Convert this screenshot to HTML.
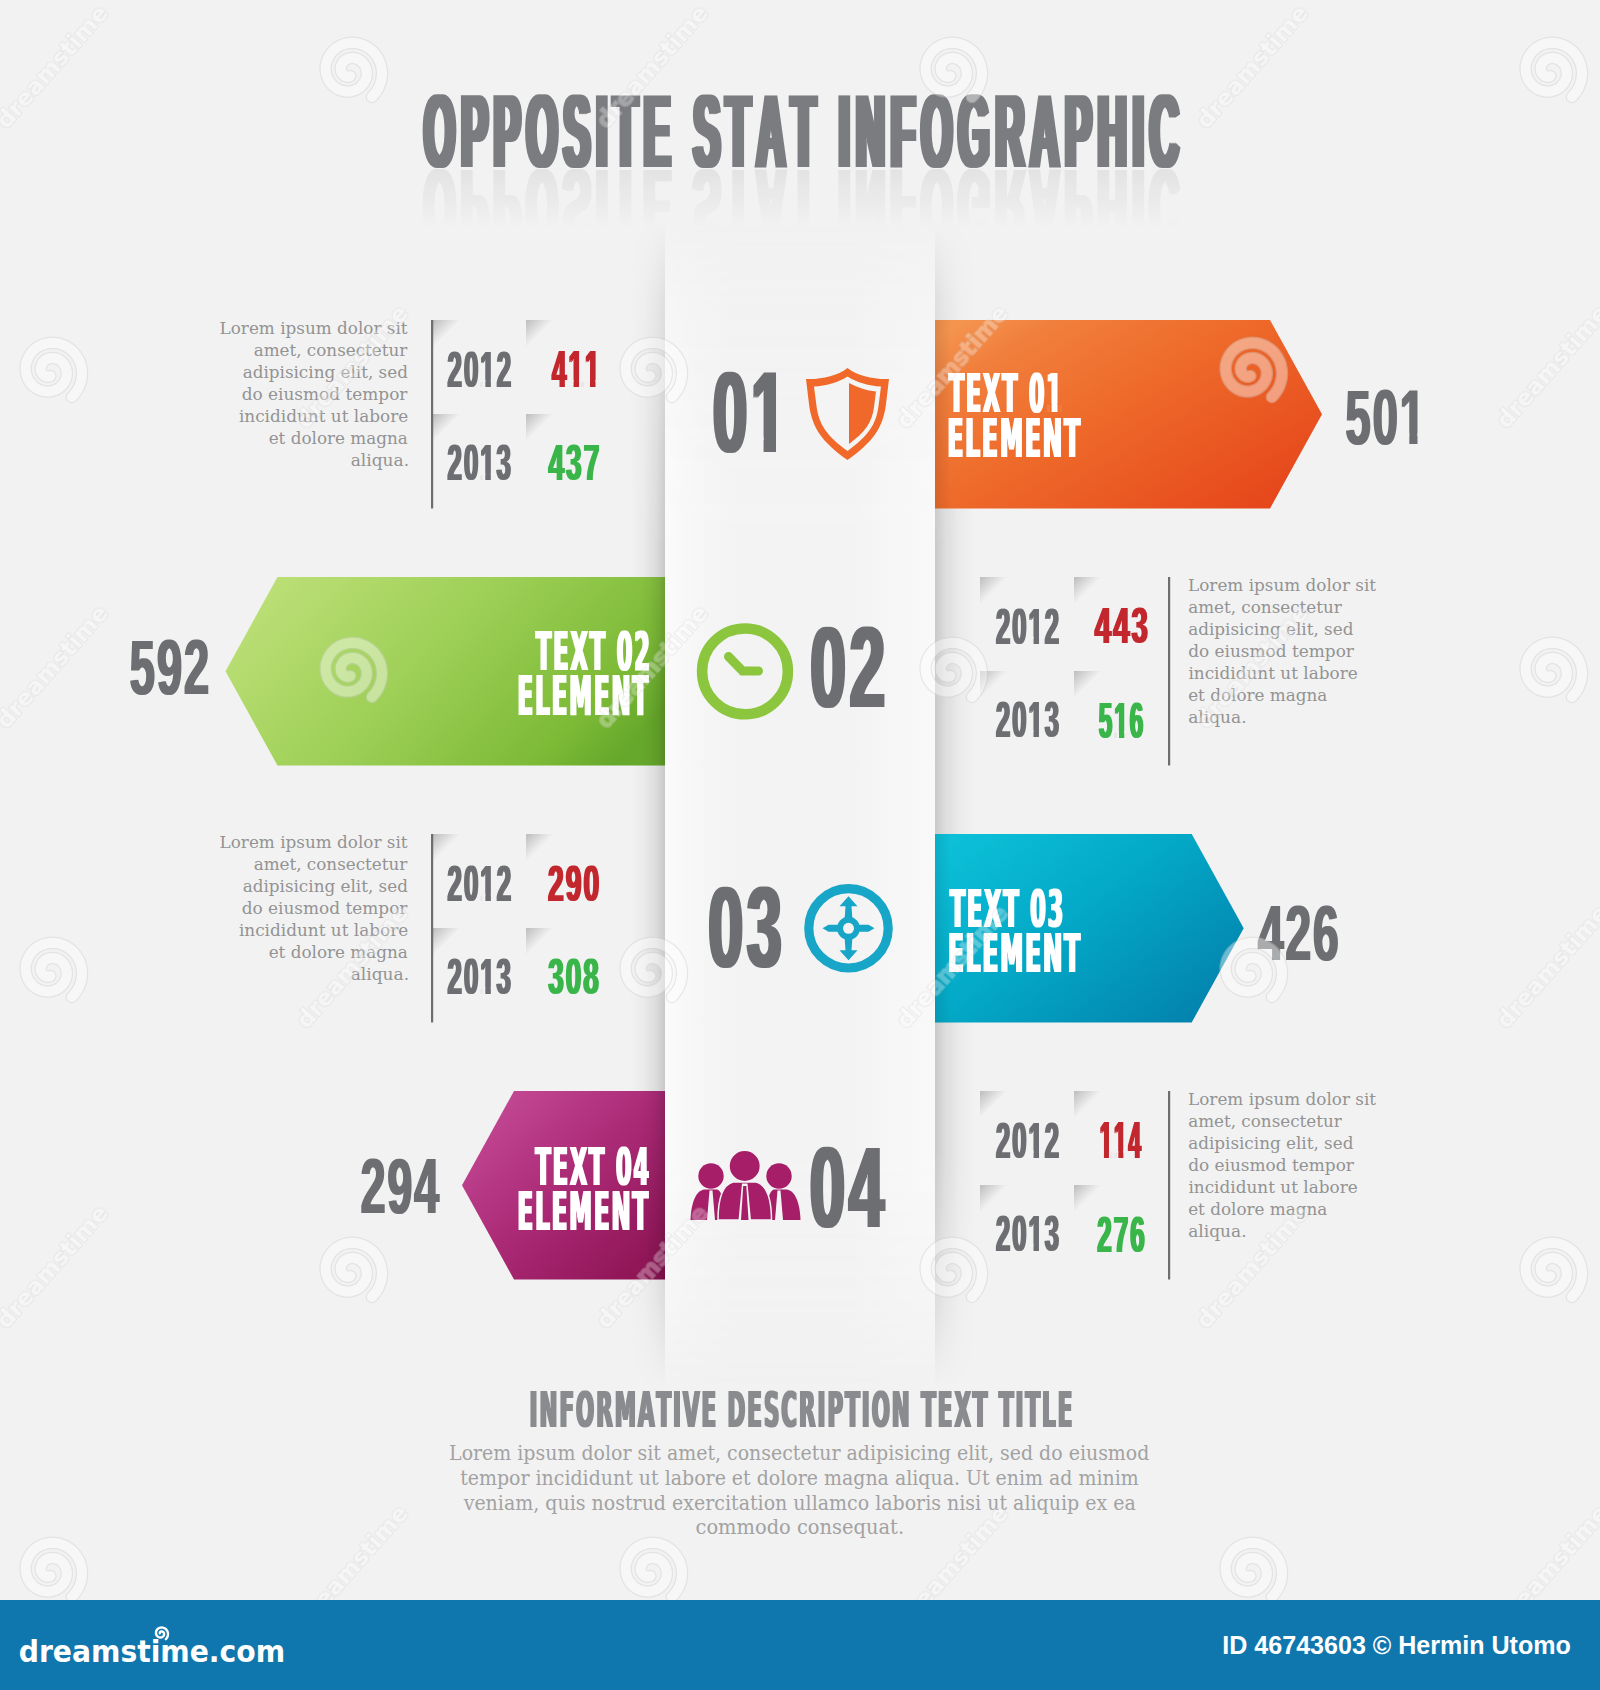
<!DOCTYPE html>
<html><head><meta charset="utf-8"><title>Opposite Stat Infographic</title>
<style>html,body{margin:0;padding:0;background:#f2f2f2;} svg{display:block} text{font-kerning:none}</style>
</head><body>
<svg width="1600" height="1690" viewBox="0 0 1600 1690">
<defs>
<linearGradient id="gOr" x1="0" y1="0.1" x2="1" y2="0.9"><stop offset="0" stop-color="#f4944f"/><stop offset="0.14" stop-color="#f17f3c"/><stop offset="0.45" stop-color="#ee6a2a"/><stop offset="1" stop-color="#e5441a"/></linearGradient>
<linearGradient id="gGr" x1="0" y1="0.3" x2="1" y2="0.7"><stop offset="0" stop-color="#bbdf76"/><stop offset="0.45" stop-color="#9dcf56"/><stop offset="0.85" stop-color="#7cba36"/><stop offset="1" stop-color="#66a82b"/></linearGradient>
<linearGradient id="gBl" x1="0" y1="0.1" x2="1" y2="0.9"><stop offset="0" stop-color="#0cc0d8"/><stop offset="0.45" stop-color="#03a8c6"/><stop offset="1" stop-color="#037fab"/></linearGradient>
<linearGradient id="gMg" x1="0" y1="0" x2="1" y2="1"><stop offset="0" stop-color="#c9519d"/><stop offset="0.5" stop-color="#ab2a76"/><stop offset="1" stop-color="#8a1150"/></linearGradient>
<linearGradient id="corner" x1="0" y1="0" x2="1" y2="1"><stop offset="0" stop-color="#000" stop-opacity="0.22"/><stop offset="0.5" stop-color="#000" stop-opacity="0.0"/></linearGradient>
<linearGradient id="shL" x1="0" y1="0" x2="1" y2="0"><stop offset="0" stop-color="#000" stop-opacity="0"/><stop offset="0.4" stop-color="#000" stop-opacity="0.03"/><stop offset="0.75" stop-color="#000" stop-opacity="0.09"/><stop offset="1" stop-color="#000" stop-opacity="0.17"/></linearGradient>
<linearGradient id="shR" x1="0" y1="0" x2="1" y2="0"><stop offset="0" stop-color="#000" stop-opacity="0.17"/><stop offset="0.25" stop-color="#000" stop-opacity="0.09"/><stop offset="0.6" stop-color="#000" stop-opacity="0.03"/><stop offset="1" stop-color="#000" stop-opacity="0"/></linearGradient>
<linearGradient id="shA" x1="0" y1="0" x2="1" y2="0"><stop offset="0" stop-color="#000" stop-opacity="0.1"/><stop offset="1" stop-color="#000" stop-opacity="0"/></linearGradient>
<linearGradient id="stripG" x1="0" y1="0" x2="1" y2="0"><stop offset="0" stop-color="#fbfbfb"/><stop offset="0.13" stop-color="#f6f6f6"/><stop offset="0.25" stop-color="#f3f3f3"/><stop offset="0.7" stop-color="#f3f3f3"/><stop offset="0.82" stop-color="#f6f6f6"/><stop offset="1" stop-color="#f9f9f9"/></linearGradient>
<linearGradient id="vfade" x1="0" y1="0" x2="0" y2="1"><stop offset="0" stop-color="#fff" stop-opacity="0"/><stop offset="0.068" stop-color="#fff" stop-opacity="0.45"/><stop offset="0.197" stop-color="#fff" stop-opacity="0.85"/><stop offset="0.282" stop-color="#fff" stop-opacity="1"/><stop offset="0.795" stop-color="#fff" stop-opacity="1"/><stop offset="0.923" stop-color="#fff" stop-opacity="0.5"/><stop offset="1" stop-color="#fff" stop-opacity="0"/></linearGradient>
<mask id="mStrip" maskUnits="userSpaceOnUse" x="600" y="200" width="400" height="1200"><rect x="600" y="220" width="400" height="1170" fill="url(#vfade)"/></mask>
<linearGradient id="reflG" x1="0" y1="0" x2="0" y2="1"><stop offset="0" stop-color="#fff" stop-opacity="0.13"/><stop offset="1" stop-color="#fff" stop-opacity="0"/></linearGradient>
<mask id="mRefl" maskUnits="userSpaceOnUse" x="400" y="166" width="800" height="70"><rect x="400" y="168" width="800" height="60" fill="url(#reflG)"/></mask>
<filter id="d3_00" x="-5%" y="-5%" width="110%" height="110%" color-interpolation-filters="sRGB"><feMorphology operator="dilate" radius="3 0"/></filter><mask id="m1_1" maskUnits="userSpaceOnUse" x="-5000" y="-3000" width="20000" height="6000"><rect x="-5000" y="-3000" width="20000" height="6000" fill="#fff"/><rect x="236.93" y="-8.63" width="9.76" height="11.63" fill="#000"/><rect x="256.05" y="-8.63" width="9.76" height="11.63" fill="#000"/></mask><filter id="d1_00" x="-5%" y="-5%" width="110%" height="110%" color-interpolation-filters="sRGB"><feMorphology operator="dilate" radius="1 0"/></filter><mask id="m1_2" maskUnits="userSpaceOnUse" x="-5000" y="-3000" width="20000" height="6000"><rect x="-5000" y="-3000" width="20000" height="6000" fill="#fff"/><rect x="97.55" y="-10.68" width="14.89" height="13.68" fill="#000"/><rect x="123.20" y="-10.68" width="13.89" height="13.68" fill="#000"/></mask><mask id="m1_3" maskUnits="userSpaceOnUse" x="-5000" y="-3000" width="20000" height="6000"><rect x="-5000" y="-3000" width="20000" height="6000" fill="#fff"/><rect x="76.05" y="-15.59" width="21.73" height="18.59" fill="#000"/><rect x="113.48" y="-15.59" width="20.28" height="18.59" fill="#000"/></mask><filter id="d2_00" x="-5%" y="-5%" width="110%" height="110%" color-interpolation-filters="sRGB"><feMorphology operator="dilate" radius="2 0"/></filter><mask id="m1_4" maskUnits="userSpaceOnUse" x="-5000" y="-3000" width="20000" height="6000"><rect x="-5000" y="-3000" width="20000" height="6000" fill="#fff"/><rect x="66.65" y="-6.93" width="9.66" height="9.93" fill="#000"/><rect x="83.28" y="-6.93" width="9.01" height="9.93" fill="#000"/></mask><mask id="m1_5" maskUnits="userSpaceOnUse" x="-5000" y="-3000" width="20000" height="6000"><rect x="-5000" y="-3000" width="20000" height="6000" fill="#fff"/><rect x="66.52" y="-6.91" width="9.64" height="9.91" fill="#000"/><rect x="83.12" y="-6.91" width="8.99" height="9.91" fill="#000"/></mask><mask id="m1_6" maskUnits="userSpaceOnUse" x="-5000" y="-3000" width="20000" height="6000"><rect x="-5000" y="-3000" width="20000" height="6000" fill="#fff"/><rect x="35.42" y="-7.13" width="9.94" height="10.13" fill="#000"/><rect x="52.54" y="-7.13" width="9.27" height="10.13" fill="#000"/><rect x="68.56" y="-7.13" width="9.94" height="10.13" fill="#000"/><rect x="85.68" y="-7.13" width="9.27" height="10.13" fill="#000"/></mask><mask id="m1_7" maskUnits="userSpaceOnUse" x="-5000" y="-3000" width="20000" height="6000"><rect x="-5000" y="-3000" width="20000" height="6000" fill="#fff"/><rect x="66.72" y="-6.93" width="9.66" height="9.93" fill="#000"/><rect x="83.35" y="-6.93" width="9.01" height="9.93" fill="#000"/></mask><mask id="m1_8" maskUnits="userSpaceOnUse" x="-5000" y="-3000" width="20000" height="6000"><rect x="-5000" y="-3000" width="20000" height="6000" fill="#fff"/><rect x="66.59" y="-6.91" width="9.64" height="9.91" fill="#000"/><rect x="83.19" y="-6.91" width="8.99" height="9.91" fill="#000"/></mask><mask id="m1_9" maskUnits="userSpaceOnUse" x="-5000" y="-3000" width="20000" height="6000"><rect x="-5000" y="-3000" width="20000" height="6000" fill="#fff"/><rect x="34.69" y="-6.93" width="9.66" height="9.93" fill="#000"/><rect x="51.32" y="-6.93" width="9.01" height="9.93" fill="#000"/></mask><mask id="m1_10" maskUnits="userSpaceOnUse" x="-5000" y="-3000" width="20000" height="6000"><rect x="-5000" y="-3000" width="20000" height="6000" fill="#fff"/><rect x="66.65" y="-6.93" width="9.66" height="9.93" fill="#000"/><rect x="83.28" y="-6.93" width="9.01" height="9.93" fill="#000"/></mask><mask id="m1_11" maskUnits="userSpaceOnUse" x="-5000" y="-3000" width="20000" height="6000"><rect x="-5000" y="-3000" width="20000" height="6000" fill="#fff"/><rect x="66.52" y="-6.91" width="9.64" height="9.91" fill="#000"/><rect x="83.12" y="-6.91" width="8.99" height="9.91" fill="#000"/></mask><mask id="m1_12" maskUnits="userSpaceOnUse" x="-5000" y="-3000" width="20000" height="6000"><rect x="-5000" y="-3000" width="20000" height="6000" fill="#fff"/><rect x="66.72" y="-6.93" width="9.66" height="9.93" fill="#000"/><rect x="83.35" y="-6.93" width="9.01" height="9.93" fill="#000"/></mask><mask id="m1_13" maskUnits="userSpaceOnUse" x="-5000" y="-3000" width="20000" height="6000"><rect x="-5000" y="-3000" width="20000" height="6000" fill="#fff"/><rect x="66.59" y="-6.91" width="9.64" height="9.91" fill="#000"/><rect x="83.19" y="-6.91" width="8.99" height="9.91" fill="#000"/></mask><mask id="m1_14" maskUnits="userSpaceOnUse" x="-5000" y="-3000" width="20000" height="6000"><rect x="-5000" y="-3000" width="20000" height="6000" fill="#fff"/><rect x="2.27" y="-7.13" width="9.94" height="10.13" fill="#000"/><rect x="19.39" y="-7.13" width="9.27" height="10.13" fill="#000"/><rect x="36.08" y="-7.13" width="9.94" height="10.13" fill="#000"/><rect x="53.20" y="-7.13" width="9.27" height="10.13" fill="#000"/></mask><clipPath id="cpWM"><rect x="0" y="0" width="1600" height="1600"/></clipPath></defs>
<rect width="1600" height="1690" fill="#f2f2f2"/>
<g mask="url(#mStrip)">
<rect x="665" y="220" width="270" height="1170" fill="url(#stripG)"/>
<rect x="630" y="220" width="35" height="1170" fill="url(#shL)"/>
<rect x="935" y="220" width="40" height="1170" fill="url(#shR)"/>
</g>
<g filter="url(#d3_00)"><text transform="translate(424.06,166.98) scale(0.3824,1)" style="font-family:&quot;Liberation Sans&quot;,sans-serif;font-weight:bold;font-size:104.52px;letter-spacing:15.689px" fill="#7b7c80">OPPOSITE STAT INFOGRAPHIC</text></g>
<g mask="url(#mRefl)"><g transform="translate(0,337) scale(1,-1)"><g filter="url(#d3_00)"><text transform="translate(424.06,166.98) scale(0.3824,1)" style="font-family:&quot;Liberation Sans&quot;,sans-serif;font-weight:bold;font-size:104.52px;letter-spacing:15.689px" fill="#7b7c80">OPPOSITE STAT INFOGRAPHIC</text></g></g></g>
<polygon points="935,320 1270,320 1322,414.25 1270,508.5 935,508.5" fill="url(#gOr)"/>
<polygon points="665,577 277.5,577 225.5,671.25 277.5,765.5 665,765.5" fill="url(#gGr)"/>
<polygon points="935,834 1191.7,834 1243.7,928.25 1191.7,1022.5 935,1022.5" fill="url(#gBl)"/>
<polygon points="665,1091 514,1091 462,1185.25 514,1279.5 665,1279.5" fill="url(#gMg)"/>
<rect x="640" y="577" width="25" height="188.5" fill="url(#shL)"/>
<rect x="935" y="320" width="16" height="188.5" fill="url(#shA)"/>
<rect x="935" y="834" width="16" height="188.5" fill="url(#shA)"/>
<rect x="640" y="1091" width="25" height="188.5" fill="url(#shL)"/>
<g filter="url(#d1_00)"><text transform="translate(948.89,412.35) scale(0.4203,1)" style="font-family:&quot;DejaVu Sans&quot;,sans-serif;font-weight:bold;font-size:52.62px;letter-spacing:4.759px" fill="#ffffff" mask="url(#m1_1)">TEXT 01</text></g>
<g filter="url(#d1_00)"><text transform="translate(947.47,456.70) scale(0.4300,1)" style="font-family:&quot;DejaVu Sans&quot;,sans-serif;font-weight:bold;font-size:53.91px;letter-spacing:4.651px" fill="#ffffff">ELEMENT</text></g>
<g filter="url(#d1_00)"><text transform="translate(535.89,670.25) scale(0.4234,1)" style="font-family:&quot;DejaVu Sans&quot;,sans-serif;font-weight:bold;font-size:52.89px;letter-spacing:4.724px" fill="#ffffff">TEXT 02</text></g>
<g filter="url(#d1_00)"><text transform="translate(517.61,715.00) scale(0.4153,1)" style="font-family:&quot;DejaVu Sans&quot;,sans-serif;font-weight:bold;font-size:54.87px;letter-spacing:4.816px" fill="#ffffff">ELEMENT</text></g>
<g filter="url(#d1_00)"><text transform="translate(949.89,927.28) scale(0.4385,1)" style="font-family:&quot;DejaVu Sans&quot;,sans-serif;font-weight:bold;font-size:50.77px;letter-spacing:4.561px" fill="#ffffff">TEXT 03</text></g>
<g filter="url(#d1_00)"><text transform="translate(947.88,971.70) scale(0.4355,1)" style="font-family:&quot;DejaVu Sans&quot;,sans-serif;font-weight:bold;font-size:53.09px;letter-spacing:4.592px" fill="#ffffff">ELEMENT</text></g>
<g filter="url(#d1_00)"><text transform="translate(535.49,1184.87) scale(0.4298,1)" style="font-family:&quot;DejaVu Sans&quot;,sans-serif;font-weight:bold;font-size:51.83px;letter-spacing:4.653px" fill="#ffffff">TEXT 04</text></g>
<g filter="url(#d1_00)"><text transform="translate(517.61,1229.50) scale(0.4249,1)" style="font-family:&quot;DejaVu Sans&quot;,sans-serif;font-weight:bold;font-size:53.63px;letter-spacing:4.707px" fill="#ffffff">ELEMENT</text></g>
<g filter="url(#d1_00)"><text transform="translate(1345.61,443.93) scale(0.5754,1)" style="font-family:&quot;Liberation Sans&quot;,sans-serif;font-weight:bold;font-size:78.39px;letter-spacing:3.476px" fill="#6d6e71" mask="url(#m1_2)">501</text></g>
<g filter="url(#d1_00)"><text transform="translate(129.86,693.94) scale(0.5780,1)" style="font-family:&quot;Liberation Sans&quot;,sans-serif;font-weight:bold;font-size:77.97px;letter-spacing:3.460px" fill="#6d6e71">592</text></g>
<g filter="url(#d1_00)"><text transform="translate(1257.90,960.45) scale(0.5966,1)" style="font-family:&quot;Liberation Sans&quot;,sans-serif;font-weight:bold;font-size:77.12px;letter-spacing:3.353px" fill="#6d6e71">426</text></g>
<g filter="url(#d1_00)"><text transform="translate(360.76,1212.93) scale(0.5651,1)" style="font-family:&quot;Liberation Sans&quot;,sans-serif;font-weight:bold;font-size:78.67px;letter-spacing:3.539px" fill="#6d6e71">294</text></g>
<g filter="url(#d2_00)"><text transform="translate(713.07,452.38) scale(0.5369,1)" style="font-family:&quot;Liberation Sans&quot;,sans-serif;font-weight:bold;font-size:114.41px;letter-spacing:7.450px" fill="#6d6e71" mask="url(#m1_3)">01</text></g>
<g filter="url(#d2_00)"><text transform="translate(810.50,706.88) scale(0.5535,1)" style="font-family:&quot;Liberation Sans&quot;,sans-serif;font-weight:bold;font-size:114.41px;letter-spacing:7.226px" fill="#6d6e71">02</text></g>
<g filter="url(#d2_00)"><text transform="translate(708.55,966.72) scale(0.5425,1)" style="font-family:&quot;Liberation Sans&quot;,sans-serif;font-weight:bold;font-size:114.17px;letter-spacing:7.374px" fill="#6d6e71">03</text></g>
<g filter="url(#d2_00)"><text transform="translate(810.12,1227.18) scale(0.5458,1)" style="font-family:&quot;Liberation Sans&quot;,sans-serif;font-weight:bold;font-size:114.83px;letter-spacing:7.328px" fill="#6d6e71">04</text></g>
<rect x="431" y="320" width="2.2" height="188.5" fill="#6d6e71"/>
<rect x="433" y="320" width="28" height="28" fill="url(#corner)"/>
<rect x="526" y="320" width="28" height="28" fill="url(#corner)"/>
<rect x="433" y="414" width="28" height="28" fill="url(#corner)"/>
<rect x="526" y="414" width="28" height="28" fill="url(#corner)"/>
<g filter="url(#d1_00)"><text transform="translate(447.61,386.50) scale(0.5077,1)" style="font-family:&quot;Liberation Sans&quot;,sans-serif;font-weight:bold;font-size:50.85px;letter-spacing:3.939px" fill="#6d6e71" mask="url(#m1_4)">2012</text></g>
<g filter="url(#d1_00)"><text transform="translate(447.61,480.43) scale(0.5078,1)" style="font-family:&quot;Liberation Sans&quot;,sans-serif;font-weight:bold;font-size:50.74px;letter-spacing:3.938px" fill="#6d6e71" mask="url(#m1_5)">2013</text></g>
<g filter="url(#d1_00)"><text transform="translate(552.11,387.00) scale(0.4948,1)" style="font-family:&quot;Liberation Sans&quot;,sans-serif;font-weight:bold;font-size:52.33px;letter-spacing:4.042px" fill="#c1272d" mask="url(#m1_6)">411</text></g>
<g filter="url(#d1_00)"><text transform="translate(548.58,480.43) scale(0.5510,1)" style="font-family:&quot;Liberation Sans&quot;,sans-serif;font-weight:bold;font-size:50.74px;letter-spacing:3.629px" fill="#39b54a">437</text></g>
<rect x="1168" y="577" width="2.2" height="188.5" fill="#6d6e71"/>
<rect x="980" y="577" width="28" height="28" fill="url(#corner)"/>
<rect x="1074" y="577" width="28" height="28" fill="url(#corner)"/>
<rect x="980" y="671" width="28" height="28" fill="url(#corner)"/>
<rect x="1074" y="671" width="28" height="28" fill="url(#corner)"/>
<g filter="url(#d1_00)"><text transform="translate(996.11,643.50) scale(0.5031,1)" style="font-family:&quot;Liberation Sans&quot;,sans-serif;font-weight:bold;font-size:50.85px;letter-spacing:3.975px" fill="#6d6e71" mask="url(#m1_7)">2012</text></g>
<g filter="url(#d1_00)"><text transform="translate(996.11,737.43) scale(0.5033,1)" style="font-family:&quot;Liberation Sans&quot;,sans-serif;font-weight:bold;font-size:50.74px;letter-spacing:3.974px" fill="#6d6e71" mask="url(#m1_8)">2013</text></g>
<g filter="url(#d1_00)"><text transform="translate(1094.86,643.43) scale(0.5776,1)" style="font-family:&quot;Liberation Sans&quot;,sans-serif;font-weight:bold;font-size:50.74px;letter-spacing:3.462px" fill="#c1272d">443</text></g>
<g filter="url(#d1_00)"><text transform="translate(1098.85,737.50) scale(0.4765,1)" style="font-family:&quot;Liberation Sans&quot;,sans-serif;font-weight:bold;font-size:50.85px;letter-spacing:4.198px" fill="#39b54a" mask="url(#m1_9)">516</text></g>
<rect x="431" y="834" width="2.2" height="188.5" fill="#6d6e71"/>
<rect x="433" y="834" width="28" height="28" fill="url(#corner)"/>
<rect x="526" y="834" width="28" height="28" fill="url(#corner)"/>
<rect x="433" y="928" width="28" height="28" fill="url(#corner)"/>
<rect x="526" y="928" width="28" height="28" fill="url(#corner)"/>
<g filter="url(#d1_00)"><text transform="translate(447.61,900.50) scale(0.5077,1)" style="font-family:&quot;Liberation Sans&quot;,sans-serif;font-weight:bold;font-size:50.85px;letter-spacing:3.939px" fill="#6d6e71" mask="url(#m1_10)">2012</text></g>
<g filter="url(#d1_00)"><text transform="translate(447.61,994.43) scale(0.5078,1)" style="font-family:&quot;Liberation Sans&quot;,sans-serif;font-weight:bold;font-size:50.74px;letter-spacing:3.938px" fill="#6d6e71" mask="url(#m1_11)">2013</text></g>
<g filter="url(#d1_00)"><text transform="translate(548.02,900.50) scale(0.5556,1)" style="font-family:&quot;Liberation Sans&quot;,sans-serif;font-weight:bold;font-size:50.85px;letter-spacing:3.599px" fill="#c1272d">290</text></g>
<g filter="url(#d1_00)"><text transform="translate(548.36,994.43) scale(0.5492,1)" style="font-family:&quot;Liberation Sans&quot;,sans-serif;font-weight:bold;font-size:50.74px;letter-spacing:3.642px" fill="#39b54a">308</text></g>
<rect x="1168" y="1091" width="2.2" height="188.5" fill="#6d6e71"/>
<rect x="980" y="1091" width="28" height="28" fill="url(#corner)"/>
<rect x="1074" y="1091" width="28" height="28" fill="url(#corner)"/>
<rect x="980" y="1185" width="28" height="28" fill="url(#corner)"/>
<rect x="1074" y="1185" width="28" height="28" fill="url(#corner)"/>
<g filter="url(#d1_00)"><text transform="translate(996.11,1157.50) scale(0.5031,1)" style="font-family:&quot;Liberation Sans&quot;,sans-serif;font-weight:bold;font-size:50.85px;letter-spacing:3.975px" fill="#6d6e71" mask="url(#m1_12)">2012</text></g>
<g filter="url(#d1_00)"><text transform="translate(996.11,1251.43) scale(0.5033,1)" style="font-family:&quot;Liberation Sans&quot;,sans-serif;font-weight:bold;font-size:50.74px;letter-spacing:3.974px" fill="#6d6e71" mask="url(#m1_13)">2013</text></g>
<g filter="url(#d1_00)"><text transform="translate(1099.73,1158.00) scale(0.4254,1)" style="font-family:&quot;Liberation Sans&quot;,sans-serif;font-weight:bold;font-size:52.33px;letter-spacing:4.701px" fill="#c1272d" mask="url(#m1_14)">114</text></g>
<g filter="url(#d1_00)"><text transform="translate(1097.35,1251.50) scale(0.5109,1)" style="font-family:&quot;Liberation Sans&quot;,sans-serif;font-weight:bold;font-size:50.85px;letter-spacing:3.915px" fill="#39b54a">276</text></g>
<text transform="translate(219.57,334.00) scale(0.9612,1)" style="font-family:&quot;DejaVu Serif&quot;,sans-serif;font-weight:normal;font-size:17.50px" fill="#939393">Lorem ipsum dolor sit</text>
<text transform="translate(253.66,356.00) scale(0.9594,1)" style="font-family:&quot;DejaVu Serif&quot;,sans-serif;font-weight:normal;font-size:17.50px" fill="#939393">amet, consectetur</text>
<text transform="translate(242.66,378.00) scale(0.9596,1)" style="font-family:&quot;DejaVu Serif&quot;,sans-serif;font-weight:normal;font-size:17.50px" fill="#939393">adipisicing elit, sed</text>
<text transform="translate(241.66,400.00) scale(0.9671,1)" style="font-family:&quot;DejaVu Serif&quot;,sans-serif;font-weight:normal;font-size:17.50px" fill="#939393">do eiusmod tempor</text>
<text transform="translate(238.89,422.00) scale(0.9641,1)" style="font-family:&quot;DejaVu Serif&quot;,sans-serif;font-weight:normal;font-size:17.50px" fill="#939393">incididunt ut labore</text>
<text transform="translate(268.66,444.00) scale(0.9605,1)" style="font-family:&quot;DejaVu Serif&quot;,sans-serif;font-weight:normal;font-size:17.50px" fill="#939393">et dolore magna</text>
<text transform="translate(350.65,466.00) scale(0.9725,1)" style="font-family:&quot;DejaVu Serif&quot;,sans-serif;font-weight:normal;font-size:17.50px" fill="#939393">aliqua.</text>
<text transform="translate(1188.07,591.00) scale(0.9612,1)" style="font-family:&quot;DejaVu Serif&quot;,sans-serif;font-weight:normal;font-size:17.50px" fill="#939393">Lorem ipsum dolor sit</text>
<text transform="translate(1188.16,613.00) scale(0.9594,1)" style="font-family:&quot;DejaVu Serif&quot;,sans-serif;font-weight:normal;font-size:17.50px" fill="#939393">amet, consectetur</text>
<text transform="translate(1188.16,635.00) scale(0.9596,1)" style="font-family:&quot;DejaVu Serif&quot;,sans-serif;font-weight:normal;font-size:17.50px" fill="#939393">adipisicing elit, sed</text>
<text transform="translate(1188.16,657.00) scale(0.9671,1)" style="font-family:&quot;DejaVu Serif&quot;,sans-serif;font-weight:normal;font-size:17.50px" fill="#939393">do eiusmod tempor</text>
<text transform="translate(1188.39,679.00) scale(0.9641,1)" style="font-family:&quot;DejaVu Serif&quot;,sans-serif;font-weight:normal;font-size:17.50px" fill="#939393">incididunt ut labore</text>
<text transform="translate(1188.16,701.00) scale(0.9605,1)" style="font-family:&quot;DejaVu Serif&quot;,sans-serif;font-weight:normal;font-size:17.50px" fill="#939393">et dolore magna</text>
<text transform="translate(1188.15,723.00) scale(0.9725,1)" style="font-family:&quot;DejaVu Serif&quot;,sans-serif;font-weight:normal;font-size:17.50px" fill="#939393">aliqua.</text>
<text transform="translate(219.57,848.00) scale(0.9612,1)" style="font-family:&quot;DejaVu Serif&quot;,sans-serif;font-weight:normal;font-size:17.50px" fill="#939393">Lorem ipsum dolor sit</text>
<text transform="translate(253.66,870.00) scale(0.9594,1)" style="font-family:&quot;DejaVu Serif&quot;,sans-serif;font-weight:normal;font-size:17.50px" fill="#939393">amet, consectetur</text>
<text transform="translate(242.66,892.00) scale(0.9596,1)" style="font-family:&quot;DejaVu Serif&quot;,sans-serif;font-weight:normal;font-size:17.50px" fill="#939393">adipisicing elit, sed</text>
<text transform="translate(241.66,914.00) scale(0.9671,1)" style="font-family:&quot;DejaVu Serif&quot;,sans-serif;font-weight:normal;font-size:17.50px" fill="#939393">do eiusmod tempor</text>
<text transform="translate(238.89,936.00) scale(0.9641,1)" style="font-family:&quot;DejaVu Serif&quot;,sans-serif;font-weight:normal;font-size:17.50px" fill="#939393">incididunt ut labore</text>
<text transform="translate(268.66,958.00) scale(0.9605,1)" style="font-family:&quot;DejaVu Serif&quot;,sans-serif;font-weight:normal;font-size:17.50px" fill="#939393">et dolore magna</text>
<text transform="translate(350.65,980.00) scale(0.9725,1)" style="font-family:&quot;DejaVu Serif&quot;,sans-serif;font-weight:normal;font-size:17.50px" fill="#939393">aliqua.</text>
<text transform="translate(1188.07,1105.00) scale(0.9612,1)" style="font-family:&quot;DejaVu Serif&quot;,sans-serif;font-weight:normal;font-size:17.50px" fill="#939393">Lorem ipsum dolor sit</text>
<text transform="translate(1188.16,1127.00) scale(0.9594,1)" style="font-family:&quot;DejaVu Serif&quot;,sans-serif;font-weight:normal;font-size:17.50px" fill="#939393">amet, consectetur</text>
<text transform="translate(1188.16,1149.00) scale(0.9596,1)" style="font-family:&quot;DejaVu Serif&quot;,sans-serif;font-weight:normal;font-size:17.50px" fill="#939393">adipisicing elit, sed</text>
<text transform="translate(1188.16,1171.00) scale(0.9671,1)" style="font-family:&quot;DejaVu Serif&quot;,sans-serif;font-weight:normal;font-size:17.50px" fill="#939393">do eiusmod tempor</text>
<text transform="translate(1188.39,1193.00) scale(0.9641,1)" style="font-family:&quot;DejaVu Serif&quot;,sans-serif;font-weight:normal;font-size:17.50px" fill="#939393">incididunt ut labore</text>
<text transform="translate(1188.16,1215.00) scale(0.9605,1)" style="font-family:&quot;DejaVu Serif&quot;,sans-serif;font-weight:normal;font-size:17.50px" fill="#939393">et dolore magna</text>
<text transform="translate(1188.15,1237.00) scale(0.9725,1)" style="font-family:&quot;DejaVu Serif&quot;,sans-serif;font-weight:normal;font-size:17.50px" fill="#939393">aliqua.</text>
<g filter="url(#d1_00)"><text transform="translate(529.54,1427.39) scale(0.4268,1)" style="font-family:&quot;DejaVu Sans&quot;,sans-serif;font-weight:bold;font-size:50.11px;letter-spacing:4.686px" fill="#8a8b8e">INFORMATIVE DESCRIPTION TEXT TITLE</text></g>
<text transform="translate(449.05,1460.40) scale(0.9385,1)" style="font-family:&quot;DejaVu Serif&quot;,sans-serif;font-weight:normal;font-size:20.20px" fill="#a2a2a2">Lorem ipsum dolor sit amet, consectetur adipisicing elit, sed do eiusmod</text>
<text transform="translate(460.15,1485.10) scale(0.9384,1)" style="font-family:&quot;DejaVu Serif&quot;,sans-serif;font-weight:normal;font-size:20.20px" fill="#a2a2a2">tempor incididunt ut labore et dolore magna aliqua. Ut enim ad minim</text>
<text transform="translate(463.66,1509.90) scale(0.9406,1)" style="font-family:&quot;DejaVu Serif&quot;,sans-serif;font-weight:normal;font-size:20.20px" fill="#a2a2a2">veniam, quis nostrud exercitation ullamco laboris nisi ut aliquip ex ea</text>
<text transform="translate(695.53,1534.40) scale(0.9627,1)" style="font-family:&quot;DejaVu Serif&quot;,sans-serif;font-weight:normal;font-size:20.20px" fill="#a2a2a2">commodo consequat.</text>
<rect x="0" y="1600" width="1600" height="90" fill="#1077ae"/>
<text transform="translate(1222.32,1654.22) scale(0.9971,1)" style="font-family:&quot;Liberation Sans&quot;,sans-serif;font-weight:bold;font-size:25.14px" fill="#ffffff">ID 46743603 © Hermin Utomo</text>
<text transform="translate(18.73,1662.00) scale(0.9105,1)" style="font-family:&quot;DejaVu Sans&quot;,sans-serif;font-weight:bold;font-size:31.00px" fill="#ffffff">dreamstime.com</text>
<path d="M159.8,1633.2 L159.8,1633.0 L159.8,1632.7 L159.9,1632.5 L160.0,1632.2 L160.2,1632.0 L160.4,1631.8 L160.7,1631.6 L161.0,1631.5 L161.4,1631.4 L161.8,1631.4 L162.2,1631.4 L162.5,1631.6 L162.9,1631.8 L163.3,1632.1 L163.6,1632.5 L163.8,1632.9 L164.0,1633.3 L164.1,1633.9 L164.1,1634.4 L164.0,1634.9 L163.8,1635.5 L163.5,1636.0 L163.1,1636.4 L162.6,1636.9 L162.1,1637.2 L161.4,1637.4 L160.8,1637.5 L160.1,1637.5 L159.4,1637.4 L158.7,1637.2 L158.1,1636.8 L157.5,1636.4 L156.9,1635.8 L156.5,1635.1 L156.2,1634.4 L156.0,1633.5 L156.0,1632.7 L156.1,1631.8 L156.3,1631.0 L156.7,1630.2 L157.3,1629.4 L157.9,1628.8 L158.7,1628.3 L159.6,1627.8 L160.6,1627.6 L161.6,1627.5 L162.6,1627.6 L163.6,1627.8 L164.6,1628.3 L165.5,1628.8 L166.3,1629.6 L166.9,1630.5 L167.5,1631.5 L167.8,1632.6 L168.0,1633.7 L167.9,1634.9 L167.7,1636.1 L167.3,1637.2 L166.6,1638.3 L165.8,1639.2" fill="none" stroke="#fff" stroke-width="2.4" stroke-linecap="round"/>
<g transform="translate(806,368)">
<path d="M41.5,0 C31,8 16,11.5 0,11 L3,36 C6,60 16,74 41.5,92 C67,74 77,60 80,36 L83,11 C67,11.5 52,8 41.5,0 Z" fill="#f0682a"/>
<path d="M41.5,8.5 C32,14.5 20,18 8,18.5 L10.5,38 C13,57 21,68 41.5,83 C62,68 70,57 72.5,38 L75,18.5 C63,18 51,14.5 41.5,8.5 Z" fill="#f4f4f4"/>
<path d="M43,15 C51,19.5 60,22.5 70,23.5 L68,39 C66,55 59,64 43,76 Z" fill="#f0682a"/>
</g>
<circle cx="745" cy="671.4" r="42.9" fill="none" stroke="#8cc63f" stroke-width="10.6"/>
<polyline points="728.5,656.5 742.5,671 758.5,671" fill="none" stroke="#8cc63f" stroke-width="9" stroke-linecap="round" stroke-linejoin="miter"/>
<g transform="translate(848.5,928.3)" fill="#17a5c8">
<circle r="39.7" fill="none" stroke="#17a5c8" stroke-width="9.2"/>
<path d="M0,-32 L9,-22 L3,-22 L4,-8 L-4,-8 L-3,-22 L-9,-22 Z"/>
<path d="M0,32 L9,22 L3,22 L4,8 L-4,8 L-3,22 L-9,22 Z"/>
<path d="M-26,0 L-20,-3.5 L-8,-3.5 L-8,3.5 L-20,3.5 Z"/>
<path d="M26,0 L20,-3.5 L8,-3.5 L8,3.5 L20,3.5 Z"/>
<circle r="11.5"/>
<circle r="5.5" fill="#f4f4f4"/>
</g>
<g fill="#a61e68">
<circle cx="711" cy="1176" r="12.7"/>
<circle cx="779" cy="1176" r="12.7"/>
<path d="M690.5,1220 C691,1205 695,1191 704,1189.5 L717,1189.5 C722,1191 724,1200 724,1220 Z"/>
<path d="M767,1220 C767,1200 769,1191 774,1189.5 L787,1189.5 C796,1191 800,1205 800.5,1220 Z"/>
<circle cx="744.7" cy="1166" r="15.7" stroke="#f4f4f4" stroke-width="1.5"/>
<path d="M718,1220 C718,1200 722,1185 733,1182 L756,1182 C767,1185 771.5,1200 771.5,1220 Z" stroke="#f4f4f4" stroke-width="1.5"/>
</g>
<path d="M742,1183.5 L747.5,1183.5 L751,1220 L738.5,1220 Z" fill="#f4f4f4"/>
<path d="M743.2,1186 L746.3,1186 L748.5,1220 L741,1220 Z" fill="#a61e68"/>
<path d="M709.5,1190.5 L712.5,1190.5 L715,1220 L707,1220 Z" fill="#f4f4f4"/>
<path d="M777.5,1190.5 L780.5,1190.5 L783,1220 L775,1220 Z" fill="#f4f4f4"/>
<g clip-path="url(#cpWM)">
<g opacity="0.42" fill="none" stroke-linecap="round"><path d="M350.4,76.0 L349.9,76.2 L349.3,76.4 L348.7,76.6 L348.1,76.7 L347.4,76.7 L346.8,76.6 L346.1,76.4 L345.4,76.2 L344.7,75.9 L344.1,75.5 L343.5,75.0 L342.9,74.4 L342.4,73.8 L341.9,73.1 L341.5,72.3 L341.1,71.5 L340.9,70.6 L340.8,69.6 L340.7,68.7 L340.8,67.7 L340.9,66.7 L341.2,65.6 L341.6,64.7 L342.1,63.7 L342.7,62.7 L343.4,61.9 L344.2,61.0 L345.1,60.3 L346.1,59.6 L347.2,59.1 L348.4,58.6 L349.6,58.3 L350.9,58.1 L352.2,58.0 L353.6,58.0 L354.9,58.2 L356.3,58.6 L357.6,59.0 L358.9,59.7 L360.2,60.4 L361.3,61.3 L362.4,62.4 L363.5,63.5 L364.4,64.8 L365.1,66.2 L365.8,67.7 L366.3,69.2 L366.6,70.8 L366.8,72.5 L366.8,74.2 L366.6,75.9 L366.3,77.7 L365.7,79.3 L365.0,81.0 L364.1,82.6 L363.1,84.1 L361.9,85.5 L360.5,86.8 L359.0,88.0 L357.4,89.1 L355.6,89.9 L353.7,90.6 L351.8,91.1 L349.8,91.5 L347.7,91.6 L345.6,91.5 L343.5,91.2 L341.5,90.7 L339.4,89.9 L337.5,89.0 L335.6,87.8 L333.8,86.5 L332.2,85.0 L330.7,83.2 L329.3,81.4 L328.2,79.4 L327.2,77.2 L326.5,75.0 L326.0,72.6 L325.7,70.2 L325.6,67.8 L325.8,65.3 L326.3,62.9 L327.0,60.4 L328.0,58.1 L329.2,55.8 L330.6,53.7 L332.2,51.7 L334.1,49.8 L336.2,48.1 L338.4,46.6 L340.8,45.4 L343.3,44.3 L346.0,43.6 L348.7,43.1 L351.5,42.8 L354.3,42.9 L357.2,43.2 L360.0,43.8 L362.7,44.8 L365.4,45.9 L367.9,47.4 L370.4,49.1 L372.6,51.1 L374.7,53.3 L376.5,55.7 L378.1,58.3 L379.5,61.1 L380.6,64.0 L381.3,67.1 L381.8,70.2 L382.0,73.4 L381.8,76.6 L381.3,79.8 L380.5,82.9 L379.4,86.0 L378.0,89.0 L376.2,91.8 L374.2,94.5 L371.9,97.0" stroke="#cfcfcf" stroke-width="12.5"/><path d="M350.4,76.0 L349.9,76.2 L349.3,76.4 L348.7,76.6 L348.1,76.7 L347.4,76.7 L346.8,76.6 L346.1,76.4 L345.4,76.2 L344.7,75.9 L344.1,75.5 L343.5,75.0 L342.9,74.4 L342.4,73.8 L341.9,73.1 L341.5,72.3 L341.1,71.5 L340.9,70.6 L340.8,69.6 L340.7,68.7 L340.8,67.7 L340.9,66.7 L341.2,65.6 L341.6,64.7 L342.1,63.7 L342.7,62.7 L343.4,61.9 L344.2,61.0 L345.1,60.3 L346.1,59.6 L347.2,59.1 L348.4,58.6 L349.6,58.3 L350.9,58.1 L352.2,58.0 L353.6,58.0 L354.9,58.2 L356.3,58.6 L357.6,59.0 L358.9,59.7 L360.2,60.4 L361.3,61.3 L362.4,62.4 L363.5,63.5 L364.4,64.8 L365.1,66.2 L365.8,67.7 L366.3,69.2 L366.6,70.8 L366.8,72.5 L366.8,74.2 L366.6,75.9 L366.3,77.7 L365.7,79.3 L365.0,81.0 L364.1,82.6 L363.1,84.1 L361.9,85.5 L360.5,86.8 L359.0,88.0 L357.4,89.1 L355.6,89.9 L353.7,90.6 L351.8,91.1 L349.8,91.5 L347.7,91.6 L345.6,91.5 L343.5,91.2 L341.5,90.7 L339.4,89.9 L337.5,89.0 L335.6,87.8 L333.8,86.5 L332.2,85.0 L330.7,83.2 L329.3,81.4 L328.2,79.4 L327.2,77.2 L326.5,75.0 L326.0,72.6 L325.7,70.2 L325.6,67.8 L325.8,65.3 L326.3,62.9 L327.0,60.4 L328.0,58.1 L329.2,55.8 L330.6,53.7 L332.2,51.7 L334.1,49.8 L336.2,48.1 L338.4,46.6 L340.8,45.4 L343.3,44.3 L346.0,43.6 L348.7,43.1 L351.5,42.8 L354.3,42.9 L357.2,43.2 L360.0,43.8 L362.7,44.8 L365.4,45.9 L367.9,47.4 L370.4,49.1 L372.6,51.1 L374.7,53.3 L376.5,55.7 L378.1,58.3 L379.5,61.1 L380.6,64.0 L381.3,67.1 L381.8,70.2 L382.0,73.4 L381.8,76.6 L381.3,79.8 L380.5,82.9 L379.4,86.0 L378.0,89.0 L376.2,91.8 L374.2,94.5 L371.9,97.0" stroke="#fff" stroke-width="10"/><path d="M950.4,76.0 L949.9,76.2 L949.3,76.4 L948.7,76.6 L948.1,76.7 L947.4,76.7 L946.8,76.6 L946.1,76.4 L945.4,76.2 L944.7,75.9 L944.1,75.5 L943.5,75.0 L942.9,74.4 L942.4,73.8 L941.9,73.1 L941.5,72.3 L941.1,71.5 L940.9,70.6 L940.8,69.6 L940.7,68.7 L940.8,67.7 L940.9,66.7 L941.2,65.6 L941.6,64.7 L942.1,63.7 L942.7,62.7 L943.4,61.9 L944.2,61.0 L945.1,60.3 L946.1,59.6 L947.2,59.1 L948.4,58.6 L949.6,58.3 L950.9,58.1 L952.2,58.0 L953.6,58.0 L954.9,58.2 L956.3,58.6 L957.6,59.0 L958.9,59.7 L960.2,60.4 L961.3,61.3 L962.4,62.4 L963.5,63.5 L964.4,64.8 L965.1,66.2 L965.8,67.7 L966.3,69.2 L966.6,70.8 L966.8,72.5 L966.8,74.2 L966.6,75.9 L966.3,77.7 L965.7,79.3 L965.0,81.0 L964.1,82.6 L963.1,84.1 L961.9,85.5 L960.5,86.8 L959.0,88.0 L957.4,89.1 L955.6,89.9 L953.7,90.6 L951.8,91.1 L949.8,91.5 L947.7,91.6 L945.6,91.5 L943.5,91.2 L941.5,90.7 L939.4,89.9 L937.5,89.0 L935.6,87.8 L933.8,86.5 L932.2,85.0 L930.7,83.2 L929.3,81.4 L928.2,79.4 L927.2,77.2 L926.5,75.0 L926.0,72.6 L925.7,70.2 L925.6,67.8 L925.8,65.3 L926.3,62.9 L927.0,60.4 L928.0,58.1 L929.2,55.8 L930.6,53.7 L932.2,51.7 L934.1,49.8 L936.2,48.1 L938.4,46.6 L940.8,45.4 L943.3,44.3 L946.0,43.6 L948.7,43.1 L951.5,42.8 L954.3,42.9 L957.2,43.2 L960.0,43.8 L962.7,44.8 L965.4,45.9 L967.9,47.4 L970.4,49.1 L972.6,51.1 L974.7,53.3 L976.5,55.7 L978.1,58.3 L979.5,61.1 L980.6,64.0 L981.3,67.1 L981.8,70.2 L982.0,73.4 L981.8,76.6 L981.3,79.8 L980.5,82.9 L979.4,86.0 L978.0,89.0 L976.2,91.8 L974.2,94.5 L971.9,97.0" stroke="#cfcfcf" stroke-width="12.5"/><path d="M950.4,76.0 L949.9,76.2 L949.3,76.4 L948.7,76.6 L948.1,76.7 L947.4,76.7 L946.8,76.6 L946.1,76.4 L945.4,76.2 L944.7,75.9 L944.1,75.5 L943.5,75.0 L942.9,74.4 L942.4,73.8 L941.9,73.1 L941.5,72.3 L941.1,71.5 L940.9,70.6 L940.8,69.6 L940.7,68.7 L940.8,67.7 L940.9,66.7 L941.2,65.6 L941.6,64.7 L942.1,63.7 L942.7,62.7 L943.4,61.9 L944.2,61.0 L945.1,60.3 L946.1,59.6 L947.2,59.1 L948.4,58.6 L949.6,58.3 L950.9,58.1 L952.2,58.0 L953.6,58.0 L954.9,58.2 L956.3,58.6 L957.6,59.0 L958.9,59.7 L960.2,60.4 L961.3,61.3 L962.4,62.4 L963.5,63.5 L964.4,64.8 L965.1,66.2 L965.8,67.7 L966.3,69.2 L966.6,70.8 L966.8,72.5 L966.8,74.2 L966.6,75.9 L966.3,77.7 L965.7,79.3 L965.0,81.0 L964.1,82.6 L963.1,84.1 L961.9,85.5 L960.5,86.8 L959.0,88.0 L957.4,89.1 L955.6,89.9 L953.7,90.6 L951.8,91.1 L949.8,91.5 L947.7,91.6 L945.6,91.5 L943.5,91.2 L941.5,90.7 L939.4,89.9 L937.5,89.0 L935.6,87.8 L933.8,86.5 L932.2,85.0 L930.7,83.2 L929.3,81.4 L928.2,79.4 L927.2,77.2 L926.5,75.0 L926.0,72.6 L925.7,70.2 L925.6,67.8 L925.8,65.3 L926.3,62.9 L927.0,60.4 L928.0,58.1 L929.2,55.8 L930.6,53.7 L932.2,51.7 L934.1,49.8 L936.2,48.1 L938.4,46.6 L940.8,45.4 L943.3,44.3 L946.0,43.6 L948.7,43.1 L951.5,42.8 L954.3,42.9 L957.2,43.2 L960.0,43.8 L962.7,44.8 L965.4,45.9 L967.9,47.4 L970.4,49.1 L972.6,51.1 L974.7,53.3 L976.5,55.7 L978.1,58.3 L979.5,61.1 L980.6,64.0 L981.3,67.1 L981.8,70.2 L982.0,73.4 L981.8,76.6 L981.3,79.8 L980.5,82.9 L979.4,86.0 L978.0,89.0 L976.2,91.8 L974.2,94.5 L971.9,97.0" stroke="#fff" stroke-width="10"/><path d="M1550.4,76.0 L1549.9,76.2 L1549.3,76.4 L1548.7,76.6 L1548.1,76.7 L1547.4,76.7 L1546.8,76.6 L1546.1,76.4 L1545.4,76.2 L1544.7,75.9 L1544.1,75.5 L1543.5,75.0 L1542.9,74.4 L1542.4,73.8 L1541.9,73.1 L1541.5,72.3 L1541.1,71.5 L1540.9,70.6 L1540.8,69.6 L1540.7,68.7 L1540.8,67.7 L1540.9,66.7 L1541.2,65.6 L1541.6,64.7 L1542.1,63.7 L1542.7,62.7 L1543.4,61.9 L1544.2,61.0 L1545.1,60.3 L1546.1,59.6 L1547.2,59.1 L1548.4,58.6 L1549.6,58.3 L1550.9,58.1 L1552.2,58.0 L1553.6,58.0 L1554.9,58.2 L1556.3,58.6 L1557.6,59.0 L1558.9,59.7 L1560.2,60.4 L1561.3,61.3 L1562.4,62.4 L1563.5,63.5 L1564.4,64.8 L1565.1,66.2 L1565.8,67.7 L1566.3,69.2 L1566.6,70.8 L1566.8,72.5 L1566.8,74.2 L1566.6,75.9 L1566.3,77.7 L1565.7,79.3 L1565.0,81.0 L1564.1,82.6 L1563.1,84.1 L1561.9,85.5 L1560.5,86.8 L1559.0,88.0 L1557.4,89.1 L1555.6,89.9 L1553.7,90.6 L1551.8,91.1 L1549.8,91.5 L1547.7,91.6 L1545.6,91.5 L1543.5,91.2 L1541.5,90.7 L1539.4,89.9 L1537.5,89.0 L1535.6,87.8 L1533.8,86.5 L1532.2,85.0 L1530.7,83.2 L1529.3,81.4 L1528.2,79.4 L1527.2,77.2 L1526.5,75.0 L1526.0,72.6 L1525.7,70.2 L1525.6,67.8 L1525.8,65.3 L1526.3,62.9 L1527.0,60.4 L1528.0,58.1 L1529.2,55.8 L1530.6,53.7 L1532.2,51.7 L1534.1,49.8 L1536.2,48.1 L1538.4,46.6 L1540.8,45.4 L1543.3,44.3 L1546.0,43.6 L1548.7,43.1 L1551.5,42.8 L1554.3,42.9 L1557.2,43.2 L1560.0,43.8 L1562.7,44.8 L1565.4,45.9 L1567.9,47.4 L1570.4,49.1 L1572.6,51.1 L1574.7,53.3 L1576.5,55.7 L1578.1,58.3 L1579.5,61.1 L1580.6,64.0 L1581.3,67.1 L1581.8,70.2 L1582.0,73.4 L1581.8,76.6 L1581.3,79.8 L1580.5,82.9 L1579.4,86.0 L1578.0,89.0 L1576.2,91.8 L1574.2,94.5 L1571.9,97.0" stroke="#cfcfcf" stroke-width="12.5"/><path d="M1550.4,76.0 L1549.9,76.2 L1549.3,76.4 L1548.7,76.6 L1548.1,76.7 L1547.4,76.7 L1546.8,76.6 L1546.1,76.4 L1545.4,76.2 L1544.7,75.9 L1544.1,75.5 L1543.5,75.0 L1542.9,74.4 L1542.4,73.8 L1541.9,73.1 L1541.5,72.3 L1541.1,71.5 L1540.9,70.6 L1540.8,69.6 L1540.7,68.7 L1540.8,67.7 L1540.9,66.7 L1541.2,65.6 L1541.6,64.7 L1542.1,63.7 L1542.7,62.7 L1543.4,61.9 L1544.2,61.0 L1545.1,60.3 L1546.1,59.6 L1547.2,59.1 L1548.4,58.6 L1549.6,58.3 L1550.9,58.1 L1552.2,58.0 L1553.6,58.0 L1554.9,58.2 L1556.3,58.6 L1557.6,59.0 L1558.9,59.7 L1560.2,60.4 L1561.3,61.3 L1562.4,62.4 L1563.5,63.5 L1564.4,64.8 L1565.1,66.2 L1565.8,67.7 L1566.3,69.2 L1566.6,70.8 L1566.8,72.5 L1566.8,74.2 L1566.6,75.9 L1566.3,77.7 L1565.7,79.3 L1565.0,81.0 L1564.1,82.6 L1563.1,84.1 L1561.9,85.5 L1560.5,86.8 L1559.0,88.0 L1557.4,89.1 L1555.6,89.9 L1553.7,90.6 L1551.8,91.1 L1549.8,91.5 L1547.7,91.6 L1545.6,91.5 L1543.5,91.2 L1541.5,90.7 L1539.4,89.9 L1537.5,89.0 L1535.6,87.8 L1533.8,86.5 L1532.2,85.0 L1530.7,83.2 L1529.3,81.4 L1528.2,79.4 L1527.2,77.2 L1526.5,75.0 L1526.0,72.6 L1525.7,70.2 L1525.6,67.8 L1525.8,65.3 L1526.3,62.9 L1527.0,60.4 L1528.0,58.1 L1529.2,55.8 L1530.6,53.7 L1532.2,51.7 L1534.1,49.8 L1536.2,48.1 L1538.4,46.6 L1540.8,45.4 L1543.3,44.3 L1546.0,43.6 L1548.7,43.1 L1551.5,42.8 L1554.3,42.9 L1557.2,43.2 L1560.0,43.8 L1562.7,44.8 L1565.4,45.9 L1567.9,47.4 L1570.4,49.1 L1572.6,51.1 L1574.7,53.3 L1576.5,55.7 L1578.1,58.3 L1579.5,61.1 L1580.6,64.0 L1581.3,67.1 L1581.8,70.2 L1582.0,73.4 L1581.8,76.6 L1581.3,79.8 L1580.5,82.9 L1579.4,86.0 L1578.0,89.0 L1576.2,91.8 L1574.2,94.5 L1571.9,97.0" stroke="#fff" stroke-width="10"/><path d="M50.4,376.0 L49.9,376.2 L49.3,376.4 L48.7,376.6 L48.1,376.7 L47.4,376.7 L46.8,376.6 L46.1,376.4 L45.4,376.2 L44.7,375.9 L44.1,375.5 L43.5,375.0 L42.9,374.4 L42.4,373.8 L41.9,373.1 L41.5,372.3 L41.1,371.5 L40.9,370.6 L40.8,369.6 L40.7,368.7 L40.8,367.7 L40.9,366.7 L41.2,365.6 L41.6,364.7 L42.1,363.7 L42.7,362.7 L43.4,361.9 L44.2,361.0 L45.1,360.3 L46.1,359.6 L47.2,359.1 L48.4,358.6 L49.6,358.3 L50.9,358.1 L52.2,358.0 L53.6,358.0 L54.9,358.2 L56.3,358.6 L57.6,359.0 L58.9,359.7 L60.2,360.4 L61.3,361.3 L62.4,362.4 L63.5,363.5 L64.4,364.8 L65.1,366.2 L65.8,367.7 L66.3,369.2 L66.6,370.8 L66.8,372.5 L66.8,374.2 L66.6,375.9 L66.3,377.7 L65.7,379.3 L65.0,381.0 L64.1,382.6 L63.1,384.1 L61.9,385.5 L60.5,386.8 L59.0,388.0 L57.4,389.1 L55.6,389.9 L53.7,390.6 L51.8,391.1 L49.8,391.5 L47.7,391.6 L45.6,391.5 L43.5,391.2 L41.5,390.7 L39.4,389.9 L37.5,389.0 L35.6,387.8 L33.8,386.5 L32.2,385.0 L30.7,383.2 L29.3,381.4 L28.2,379.4 L27.2,377.2 L26.5,375.0 L26.0,372.6 L25.7,370.2 L25.6,367.8 L25.8,365.3 L26.3,362.9 L27.0,360.4 L28.0,358.1 L29.2,355.8 L30.6,353.7 L32.2,351.7 L34.1,349.8 L36.2,348.1 L38.4,346.6 L40.8,345.4 L43.3,344.3 L46.0,343.6 L48.7,343.1 L51.5,342.8 L54.3,342.9 L57.2,343.2 L60.0,343.8 L62.7,344.8 L65.4,345.9 L67.9,347.4 L70.4,349.1 L72.6,351.1 L74.7,353.3 L76.5,355.7 L78.1,358.3 L79.5,361.1 L80.6,364.0 L81.3,367.1 L81.8,370.2 L82.0,373.4 L81.8,376.6 L81.3,379.8 L80.5,382.9 L79.4,386.0 L78.0,389.0 L76.2,391.8 L74.2,394.5 L71.9,397.0" stroke="#cfcfcf" stroke-width="12.5"/><path d="M50.4,376.0 L49.9,376.2 L49.3,376.4 L48.7,376.6 L48.1,376.7 L47.4,376.7 L46.8,376.6 L46.1,376.4 L45.4,376.2 L44.7,375.9 L44.1,375.5 L43.5,375.0 L42.9,374.4 L42.4,373.8 L41.9,373.1 L41.5,372.3 L41.1,371.5 L40.9,370.6 L40.8,369.6 L40.7,368.7 L40.8,367.7 L40.9,366.7 L41.2,365.6 L41.6,364.7 L42.1,363.7 L42.7,362.7 L43.4,361.9 L44.2,361.0 L45.1,360.3 L46.1,359.6 L47.2,359.1 L48.4,358.6 L49.6,358.3 L50.9,358.1 L52.2,358.0 L53.6,358.0 L54.9,358.2 L56.3,358.6 L57.6,359.0 L58.9,359.7 L60.2,360.4 L61.3,361.3 L62.4,362.4 L63.5,363.5 L64.4,364.8 L65.1,366.2 L65.8,367.7 L66.3,369.2 L66.6,370.8 L66.8,372.5 L66.8,374.2 L66.6,375.9 L66.3,377.7 L65.7,379.3 L65.0,381.0 L64.1,382.6 L63.1,384.1 L61.9,385.5 L60.5,386.8 L59.0,388.0 L57.4,389.1 L55.6,389.9 L53.7,390.6 L51.8,391.1 L49.8,391.5 L47.7,391.6 L45.6,391.5 L43.5,391.2 L41.5,390.7 L39.4,389.9 L37.5,389.0 L35.6,387.8 L33.8,386.5 L32.2,385.0 L30.7,383.2 L29.3,381.4 L28.2,379.4 L27.2,377.2 L26.5,375.0 L26.0,372.6 L25.7,370.2 L25.6,367.8 L25.8,365.3 L26.3,362.9 L27.0,360.4 L28.0,358.1 L29.2,355.8 L30.6,353.7 L32.2,351.7 L34.1,349.8 L36.2,348.1 L38.4,346.6 L40.8,345.4 L43.3,344.3 L46.0,343.6 L48.7,343.1 L51.5,342.8 L54.3,342.9 L57.2,343.2 L60.0,343.8 L62.7,344.8 L65.4,345.9 L67.9,347.4 L70.4,349.1 L72.6,351.1 L74.7,353.3 L76.5,355.7 L78.1,358.3 L79.5,361.1 L80.6,364.0 L81.3,367.1 L81.8,370.2 L82.0,373.4 L81.8,376.6 L81.3,379.8 L80.5,382.9 L79.4,386.0 L78.0,389.0 L76.2,391.8 L74.2,394.5 L71.9,397.0" stroke="#fff" stroke-width="10"/><path d="M650.4,376.0 L649.9,376.2 L649.3,376.4 L648.7,376.6 L648.1,376.7 L647.4,376.7 L646.8,376.6 L646.1,376.4 L645.4,376.2 L644.7,375.9 L644.1,375.5 L643.5,375.0 L642.9,374.4 L642.4,373.8 L641.9,373.1 L641.5,372.3 L641.1,371.5 L640.9,370.6 L640.8,369.6 L640.7,368.7 L640.8,367.7 L640.9,366.7 L641.2,365.6 L641.6,364.7 L642.1,363.7 L642.7,362.7 L643.4,361.9 L644.2,361.0 L645.1,360.3 L646.1,359.6 L647.2,359.1 L648.4,358.6 L649.6,358.3 L650.9,358.1 L652.2,358.0 L653.6,358.0 L654.9,358.2 L656.3,358.6 L657.6,359.0 L658.9,359.7 L660.2,360.4 L661.3,361.3 L662.4,362.4 L663.5,363.5 L664.4,364.8 L665.1,366.2 L665.8,367.7 L666.3,369.2 L666.6,370.8 L666.8,372.5 L666.8,374.2 L666.6,375.9 L666.3,377.7 L665.7,379.3 L665.0,381.0 L664.1,382.6 L663.1,384.1 L661.9,385.5 L660.5,386.8 L659.0,388.0 L657.4,389.1 L655.6,389.9 L653.7,390.6 L651.8,391.1 L649.8,391.5 L647.7,391.6 L645.6,391.5 L643.5,391.2 L641.5,390.7 L639.4,389.9 L637.5,389.0 L635.6,387.8 L633.8,386.5 L632.2,385.0 L630.7,383.2 L629.3,381.4 L628.2,379.4 L627.2,377.2 L626.5,375.0 L626.0,372.6 L625.7,370.2 L625.6,367.8 L625.8,365.3 L626.3,362.9 L627.0,360.4 L628.0,358.1 L629.2,355.8 L630.6,353.7 L632.2,351.7 L634.1,349.8 L636.2,348.1 L638.4,346.6 L640.8,345.4 L643.3,344.3 L646.0,343.6 L648.7,343.1 L651.5,342.8 L654.3,342.9 L657.2,343.2 L660.0,343.8 L662.7,344.8 L665.4,345.9 L667.9,347.4 L670.4,349.1 L672.6,351.1 L674.7,353.3 L676.5,355.7 L678.1,358.3 L679.5,361.1 L680.6,364.0 L681.3,367.1 L681.8,370.2 L682.0,373.4 L681.8,376.6 L681.3,379.8 L680.5,382.9 L679.4,386.0 L678.0,389.0 L676.2,391.8 L674.2,394.5 L671.9,397.0" stroke="#cfcfcf" stroke-width="12.5"/><path d="M650.4,376.0 L649.9,376.2 L649.3,376.4 L648.7,376.6 L648.1,376.7 L647.4,376.7 L646.8,376.6 L646.1,376.4 L645.4,376.2 L644.7,375.9 L644.1,375.5 L643.5,375.0 L642.9,374.4 L642.4,373.8 L641.9,373.1 L641.5,372.3 L641.1,371.5 L640.9,370.6 L640.8,369.6 L640.7,368.7 L640.8,367.7 L640.9,366.7 L641.2,365.6 L641.6,364.7 L642.1,363.7 L642.7,362.7 L643.4,361.9 L644.2,361.0 L645.1,360.3 L646.1,359.6 L647.2,359.1 L648.4,358.6 L649.6,358.3 L650.9,358.1 L652.2,358.0 L653.6,358.0 L654.9,358.2 L656.3,358.6 L657.6,359.0 L658.9,359.7 L660.2,360.4 L661.3,361.3 L662.4,362.4 L663.5,363.5 L664.4,364.8 L665.1,366.2 L665.8,367.7 L666.3,369.2 L666.6,370.8 L666.8,372.5 L666.8,374.2 L666.6,375.9 L666.3,377.7 L665.7,379.3 L665.0,381.0 L664.1,382.6 L663.1,384.1 L661.9,385.5 L660.5,386.8 L659.0,388.0 L657.4,389.1 L655.6,389.9 L653.7,390.6 L651.8,391.1 L649.8,391.5 L647.7,391.6 L645.6,391.5 L643.5,391.2 L641.5,390.7 L639.4,389.9 L637.5,389.0 L635.6,387.8 L633.8,386.5 L632.2,385.0 L630.7,383.2 L629.3,381.4 L628.2,379.4 L627.2,377.2 L626.5,375.0 L626.0,372.6 L625.7,370.2 L625.6,367.8 L625.8,365.3 L626.3,362.9 L627.0,360.4 L628.0,358.1 L629.2,355.8 L630.6,353.7 L632.2,351.7 L634.1,349.8 L636.2,348.1 L638.4,346.6 L640.8,345.4 L643.3,344.3 L646.0,343.6 L648.7,343.1 L651.5,342.8 L654.3,342.9 L657.2,343.2 L660.0,343.8 L662.7,344.8 L665.4,345.9 L667.9,347.4 L670.4,349.1 L672.6,351.1 L674.7,353.3 L676.5,355.7 L678.1,358.3 L679.5,361.1 L680.6,364.0 L681.3,367.1 L681.8,370.2 L682.0,373.4 L681.8,376.6 L681.3,379.8 L680.5,382.9 L679.4,386.0 L678.0,389.0 L676.2,391.8 L674.2,394.5 L671.9,397.0" stroke="#fff" stroke-width="10"/><path d="M1250.4,376.0 L1249.9,376.2 L1249.3,376.4 L1248.7,376.6 L1248.1,376.7 L1247.4,376.7 L1246.8,376.6 L1246.1,376.4 L1245.4,376.2 L1244.7,375.9 L1244.1,375.5 L1243.5,375.0 L1242.9,374.4 L1242.4,373.8 L1241.9,373.1 L1241.5,372.3 L1241.1,371.5 L1240.9,370.6 L1240.8,369.6 L1240.7,368.7 L1240.8,367.7 L1240.9,366.7 L1241.2,365.6 L1241.6,364.7 L1242.1,363.7 L1242.7,362.7 L1243.4,361.9 L1244.2,361.0 L1245.1,360.3 L1246.1,359.6 L1247.2,359.1 L1248.4,358.6 L1249.6,358.3 L1250.9,358.1 L1252.2,358.0 L1253.6,358.0 L1254.9,358.2 L1256.3,358.6 L1257.6,359.0 L1258.9,359.7 L1260.2,360.4 L1261.3,361.3 L1262.4,362.4 L1263.5,363.5 L1264.4,364.8 L1265.1,366.2 L1265.8,367.7 L1266.3,369.2 L1266.6,370.8 L1266.8,372.5 L1266.8,374.2 L1266.6,375.9 L1266.3,377.7 L1265.7,379.3 L1265.0,381.0 L1264.1,382.6 L1263.1,384.1 L1261.9,385.5 L1260.5,386.8 L1259.0,388.0 L1257.4,389.1 L1255.6,389.9 L1253.7,390.6 L1251.8,391.1 L1249.8,391.5 L1247.7,391.6 L1245.6,391.5 L1243.5,391.2 L1241.5,390.7 L1239.4,389.9 L1237.5,389.0 L1235.6,387.8 L1233.8,386.5 L1232.2,385.0 L1230.7,383.2 L1229.3,381.4 L1228.2,379.4 L1227.2,377.2 L1226.5,375.0 L1226.0,372.6 L1225.7,370.2 L1225.6,367.8 L1225.8,365.3 L1226.3,362.9 L1227.0,360.4 L1228.0,358.1 L1229.2,355.8 L1230.6,353.7 L1232.2,351.7 L1234.1,349.8 L1236.2,348.1 L1238.4,346.6 L1240.8,345.4 L1243.3,344.3 L1246.0,343.6 L1248.7,343.1 L1251.5,342.8 L1254.3,342.9 L1257.2,343.2 L1260.0,343.8 L1262.7,344.8 L1265.4,345.9 L1267.9,347.4 L1270.4,349.1 L1272.6,351.1 L1274.7,353.3 L1276.5,355.7 L1278.1,358.3 L1279.5,361.1 L1280.6,364.0 L1281.3,367.1 L1281.8,370.2 L1282.0,373.4 L1281.8,376.6 L1281.3,379.8 L1280.5,382.9 L1279.4,386.0 L1278.0,389.0 L1276.2,391.8 L1274.2,394.5 L1271.9,397.0" stroke="#cfcfcf" stroke-width="12.5"/><path d="M1250.4,376.0 L1249.9,376.2 L1249.3,376.4 L1248.7,376.6 L1248.1,376.7 L1247.4,376.7 L1246.8,376.6 L1246.1,376.4 L1245.4,376.2 L1244.7,375.9 L1244.1,375.5 L1243.5,375.0 L1242.9,374.4 L1242.4,373.8 L1241.9,373.1 L1241.5,372.3 L1241.1,371.5 L1240.9,370.6 L1240.8,369.6 L1240.7,368.7 L1240.8,367.7 L1240.9,366.7 L1241.2,365.6 L1241.6,364.7 L1242.1,363.7 L1242.7,362.7 L1243.4,361.9 L1244.2,361.0 L1245.1,360.3 L1246.1,359.6 L1247.2,359.1 L1248.4,358.6 L1249.6,358.3 L1250.9,358.1 L1252.2,358.0 L1253.6,358.0 L1254.9,358.2 L1256.3,358.6 L1257.6,359.0 L1258.9,359.7 L1260.2,360.4 L1261.3,361.3 L1262.4,362.4 L1263.5,363.5 L1264.4,364.8 L1265.1,366.2 L1265.8,367.7 L1266.3,369.2 L1266.6,370.8 L1266.8,372.5 L1266.8,374.2 L1266.6,375.9 L1266.3,377.7 L1265.7,379.3 L1265.0,381.0 L1264.1,382.6 L1263.1,384.1 L1261.9,385.5 L1260.5,386.8 L1259.0,388.0 L1257.4,389.1 L1255.6,389.9 L1253.7,390.6 L1251.8,391.1 L1249.8,391.5 L1247.7,391.6 L1245.6,391.5 L1243.5,391.2 L1241.5,390.7 L1239.4,389.9 L1237.5,389.0 L1235.6,387.8 L1233.8,386.5 L1232.2,385.0 L1230.7,383.2 L1229.3,381.4 L1228.2,379.4 L1227.2,377.2 L1226.5,375.0 L1226.0,372.6 L1225.7,370.2 L1225.6,367.8 L1225.8,365.3 L1226.3,362.9 L1227.0,360.4 L1228.0,358.1 L1229.2,355.8 L1230.6,353.7 L1232.2,351.7 L1234.1,349.8 L1236.2,348.1 L1238.4,346.6 L1240.8,345.4 L1243.3,344.3 L1246.0,343.6 L1248.7,343.1 L1251.5,342.8 L1254.3,342.9 L1257.2,343.2 L1260.0,343.8 L1262.7,344.8 L1265.4,345.9 L1267.9,347.4 L1270.4,349.1 L1272.6,351.1 L1274.7,353.3 L1276.5,355.7 L1278.1,358.3 L1279.5,361.1 L1280.6,364.0 L1281.3,367.1 L1281.8,370.2 L1282.0,373.4 L1281.8,376.6 L1281.3,379.8 L1280.5,382.9 L1279.4,386.0 L1278.0,389.0 L1276.2,391.8 L1274.2,394.5 L1271.9,397.0" stroke="#fff" stroke-width="10"/><path d="M350.4,676.0 L349.9,676.2 L349.3,676.4 L348.7,676.6 L348.1,676.7 L347.4,676.7 L346.8,676.6 L346.1,676.4 L345.4,676.2 L344.7,675.9 L344.1,675.5 L343.5,675.0 L342.9,674.4 L342.4,673.8 L341.9,673.1 L341.5,672.3 L341.1,671.5 L340.9,670.6 L340.8,669.6 L340.7,668.7 L340.8,667.7 L340.9,666.7 L341.2,665.6 L341.6,664.7 L342.1,663.7 L342.7,662.7 L343.4,661.9 L344.2,661.0 L345.1,660.3 L346.1,659.6 L347.2,659.1 L348.4,658.6 L349.6,658.3 L350.9,658.1 L352.2,658.0 L353.6,658.0 L354.9,658.2 L356.3,658.6 L357.6,659.0 L358.9,659.7 L360.2,660.4 L361.3,661.3 L362.4,662.4 L363.5,663.5 L364.4,664.8 L365.1,666.2 L365.8,667.7 L366.3,669.2 L366.6,670.8 L366.8,672.5 L366.8,674.2 L366.6,675.9 L366.3,677.7 L365.7,679.3 L365.0,681.0 L364.1,682.6 L363.1,684.1 L361.9,685.5 L360.5,686.8 L359.0,688.0 L357.4,689.1 L355.6,689.9 L353.7,690.6 L351.8,691.1 L349.8,691.5 L347.7,691.6 L345.6,691.5 L343.5,691.2 L341.5,690.7 L339.4,689.9 L337.5,689.0 L335.6,687.8 L333.8,686.5 L332.2,685.0 L330.7,683.2 L329.3,681.4 L328.2,679.4 L327.2,677.2 L326.5,675.0 L326.0,672.6 L325.7,670.2 L325.6,667.8 L325.8,665.3 L326.3,662.9 L327.0,660.4 L328.0,658.1 L329.2,655.8 L330.6,653.7 L332.2,651.7 L334.1,649.8 L336.2,648.1 L338.4,646.6 L340.8,645.4 L343.3,644.3 L346.0,643.6 L348.7,643.1 L351.5,642.8 L354.3,642.9 L357.2,643.2 L360.0,643.8 L362.7,644.8 L365.4,645.9 L367.9,647.4 L370.4,649.1 L372.6,651.1 L374.7,653.3 L376.5,655.7 L378.1,658.3 L379.5,661.1 L380.6,664.0 L381.3,667.1 L381.8,670.2 L382.0,673.4 L381.8,676.6 L381.3,679.8 L380.5,682.9 L379.4,686.0 L378.0,689.0 L376.2,691.8 L374.2,694.5 L371.9,697.0" stroke="#cfcfcf" stroke-width="12.5"/><path d="M350.4,676.0 L349.9,676.2 L349.3,676.4 L348.7,676.6 L348.1,676.7 L347.4,676.7 L346.8,676.6 L346.1,676.4 L345.4,676.2 L344.7,675.9 L344.1,675.5 L343.5,675.0 L342.9,674.4 L342.4,673.8 L341.9,673.1 L341.5,672.3 L341.1,671.5 L340.9,670.6 L340.8,669.6 L340.7,668.7 L340.8,667.7 L340.9,666.7 L341.2,665.6 L341.6,664.7 L342.1,663.7 L342.7,662.7 L343.4,661.9 L344.2,661.0 L345.1,660.3 L346.1,659.6 L347.2,659.1 L348.4,658.6 L349.6,658.3 L350.9,658.1 L352.2,658.0 L353.6,658.0 L354.9,658.2 L356.3,658.6 L357.6,659.0 L358.9,659.7 L360.2,660.4 L361.3,661.3 L362.4,662.4 L363.5,663.5 L364.4,664.8 L365.1,666.2 L365.8,667.7 L366.3,669.2 L366.6,670.8 L366.8,672.5 L366.8,674.2 L366.6,675.9 L366.3,677.7 L365.7,679.3 L365.0,681.0 L364.1,682.6 L363.1,684.1 L361.9,685.5 L360.5,686.8 L359.0,688.0 L357.4,689.1 L355.6,689.9 L353.7,690.6 L351.8,691.1 L349.8,691.5 L347.7,691.6 L345.6,691.5 L343.5,691.2 L341.5,690.7 L339.4,689.9 L337.5,689.0 L335.6,687.8 L333.8,686.5 L332.2,685.0 L330.7,683.2 L329.3,681.4 L328.2,679.4 L327.2,677.2 L326.5,675.0 L326.0,672.6 L325.7,670.2 L325.6,667.8 L325.8,665.3 L326.3,662.9 L327.0,660.4 L328.0,658.1 L329.2,655.8 L330.6,653.7 L332.2,651.7 L334.1,649.8 L336.2,648.1 L338.4,646.6 L340.8,645.4 L343.3,644.3 L346.0,643.6 L348.7,643.1 L351.5,642.8 L354.3,642.9 L357.2,643.2 L360.0,643.8 L362.7,644.8 L365.4,645.9 L367.9,647.4 L370.4,649.1 L372.6,651.1 L374.7,653.3 L376.5,655.7 L378.1,658.3 L379.5,661.1 L380.6,664.0 L381.3,667.1 L381.8,670.2 L382.0,673.4 L381.8,676.6 L381.3,679.8 L380.5,682.9 L379.4,686.0 L378.0,689.0 L376.2,691.8 L374.2,694.5 L371.9,697.0" stroke="#fff" stroke-width="10"/><path d="M950.4,676.0 L949.9,676.2 L949.3,676.4 L948.7,676.6 L948.1,676.7 L947.4,676.7 L946.8,676.6 L946.1,676.4 L945.4,676.2 L944.7,675.9 L944.1,675.5 L943.5,675.0 L942.9,674.4 L942.4,673.8 L941.9,673.1 L941.5,672.3 L941.1,671.5 L940.9,670.6 L940.8,669.6 L940.7,668.7 L940.8,667.7 L940.9,666.7 L941.2,665.6 L941.6,664.7 L942.1,663.7 L942.7,662.7 L943.4,661.9 L944.2,661.0 L945.1,660.3 L946.1,659.6 L947.2,659.1 L948.4,658.6 L949.6,658.3 L950.9,658.1 L952.2,658.0 L953.6,658.0 L954.9,658.2 L956.3,658.6 L957.6,659.0 L958.9,659.7 L960.2,660.4 L961.3,661.3 L962.4,662.4 L963.5,663.5 L964.4,664.8 L965.1,666.2 L965.8,667.7 L966.3,669.2 L966.6,670.8 L966.8,672.5 L966.8,674.2 L966.6,675.9 L966.3,677.7 L965.7,679.3 L965.0,681.0 L964.1,682.6 L963.1,684.1 L961.9,685.5 L960.5,686.8 L959.0,688.0 L957.4,689.1 L955.6,689.9 L953.7,690.6 L951.8,691.1 L949.8,691.5 L947.7,691.6 L945.6,691.5 L943.5,691.2 L941.5,690.7 L939.4,689.9 L937.5,689.0 L935.6,687.8 L933.8,686.5 L932.2,685.0 L930.7,683.2 L929.3,681.4 L928.2,679.4 L927.2,677.2 L926.5,675.0 L926.0,672.6 L925.7,670.2 L925.6,667.8 L925.8,665.3 L926.3,662.9 L927.0,660.4 L928.0,658.1 L929.2,655.8 L930.6,653.7 L932.2,651.7 L934.1,649.8 L936.2,648.1 L938.4,646.6 L940.8,645.4 L943.3,644.3 L946.0,643.6 L948.7,643.1 L951.5,642.8 L954.3,642.9 L957.2,643.2 L960.0,643.8 L962.7,644.8 L965.4,645.9 L967.9,647.4 L970.4,649.1 L972.6,651.1 L974.7,653.3 L976.5,655.7 L978.1,658.3 L979.5,661.1 L980.6,664.0 L981.3,667.1 L981.8,670.2 L982.0,673.4 L981.8,676.6 L981.3,679.8 L980.5,682.9 L979.4,686.0 L978.0,689.0 L976.2,691.8 L974.2,694.5 L971.9,697.0" stroke="#cfcfcf" stroke-width="12.5"/><path d="M950.4,676.0 L949.9,676.2 L949.3,676.4 L948.7,676.6 L948.1,676.7 L947.4,676.7 L946.8,676.6 L946.1,676.4 L945.4,676.2 L944.7,675.9 L944.1,675.5 L943.5,675.0 L942.9,674.4 L942.4,673.8 L941.9,673.1 L941.5,672.3 L941.1,671.5 L940.9,670.6 L940.8,669.6 L940.7,668.7 L940.8,667.7 L940.9,666.7 L941.2,665.6 L941.6,664.7 L942.1,663.7 L942.7,662.7 L943.4,661.9 L944.2,661.0 L945.1,660.3 L946.1,659.6 L947.2,659.1 L948.4,658.6 L949.6,658.3 L950.9,658.1 L952.2,658.0 L953.6,658.0 L954.9,658.2 L956.3,658.6 L957.6,659.0 L958.9,659.7 L960.2,660.4 L961.3,661.3 L962.4,662.4 L963.5,663.5 L964.4,664.8 L965.1,666.2 L965.8,667.7 L966.3,669.2 L966.6,670.8 L966.8,672.5 L966.8,674.2 L966.6,675.9 L966.3,677.7 L965.7,679.3 L965.0,681.0 L964.1,682.6 L963.1,684.1 L961.9,685.5 L960.5,686.8 L959.0,688.0 L957.4,689.1 L955.6,689.9 L953.7,690.6 L951.8,691.1 L949.8,691.5 L947.7,691.6 L945.6,691.5 L943.5,691.2 L941.5,690.7 L939.4,689.9 L937.5,689.0 L935.6,687.8 L933.8,686.5 L932.2,685.0 L930.7,683.2 L929.3,681.4 L928.2,679.4 L927.2,677.2 L926.5,675.0 L926.0,672.6 L925.7,670.2 L925.6,667.8 L925.8,665.3 L926.3,662.9 L927.0,660.4 L928.0,658.1 L929.2,655.8 L930.6,653.7 L932.2,651.7 L934.1,649.8 L936.2,648.1 L938.4,646.6 L940.8,645.4 L943.3,644.3 L946.0,643.6 L948.7,643.1 L951.5,642.8 L954.3,642.9 L957.2,643.2 L960.0,643.8 L962.7,644.8 L965.4,645.9 L967.9,647.4 L970.4,649.1 L972.6,651.1 L974.7,653.3 L976.5,655.7 L978.1,658.3 L979.5,661.1 L980.6,664.0 L981.3,667.1 L981.8,670.2 L982.0,673.4 L981.8,676.6 L981.3,679.8 L980.5,682.9 L979.4,686.0 L978.0,689.0 L976.2,691.8 L974.2,694.5 L971.9,697.0" stroke="#fff" stroke-width="10"/><path d="M1550.4,676.0 L1549.9,676.2 L1549.3,676.4 L1548.7,676.6 L1548.1,676.7 L1547.4,676.7 L1546.8,676.6 L1546.1,676.4 L1545.4,676.2 L1544.7,675.9 L1544.1,675.5 L1543.5,675.0 L1542.9,674.4 L1542.4,673.8 L1541.9,673.1 L1541.5,672.3 L1541.1,671.5 L1540.9,670.6 L1540.8,669.6 L1540.7,668.7 L1540.8,667.7 L1540.9,666.7 L1541.2,665.6 L1541.6,664.7 L1542.1,663.7 L1542.7,662.7 L1543.4,661.9 L1544.2,661.0 L1545.1,660.3 L1546.1,659.6 L1547.2,659.1 L1548.4,658.6 L1549.6,658.3 L1550.9,658.1 L1552.2,658.0 L1553.6,658.0 L1554.9,658.2 L1556.3,658.6 L1557.6,659.0 L1558.9,659.7 L1560.2,660.4 L1561.3,661.3 L1562.4,662.4 L1563.5,663.5 L1564.4,664.8 L1565.1,666.2 L1565.8,667.7 L1566.3,669.2 L1566.6,670.8 L1566.8,672.5 L1566.8,674.2 L1566.6,675.9 L1566.3,677.7 L1565.7,679.3 L1565.0,681.0 L1564.1,682.6 L1563.1,684.1 L1561.9,685.5 L1560.5,686.8 L1559.0,688.0 L1557.4,689.1 L1555.6,689.9 L1553.7,690.6 L1551.8,691.1 L1549.8,691.5 L1547.7,691.6 L1545.6,691.5 L1543.5,691.2 L1541.5,690.7 L1539.4,689.9 L1537.5,689.0 L1535.6,687.8 L1533.8,686.5 L1532.2,685.0 L1530.7,683.2 L1529.3,681.4 L1528.2,679.4 L1527.2,677.2 L1526.5,675.0 L1526.0,672.6 L1525.7,670.2 L1525.6,667.8 L1525.8,665.3 L1526.3,662.9 L1527.0,660.4 L1528.0,658.1 L1529.2,655.8 L1530.6,653.7 L1532.2,651.7 L1534.1,649.8 L1536.2,648.1 L1538.4,646.6 L1540.8,645.4 L1543.3,644.3 L1546.0,643.6 L1548.7,643.1 L1551.5,642.8 L1554.3,642.9 L1557.2,643.2 L1560.0,643.8 L1562.7,644.8 L1565.4,645.9 L1567.9,647.4 L1570.4,649.1 L1572.6,651.1 L1574.7,653.3 L1576.5,655.7 L1578.1,658.3 L1579.5,661.1 L1580.6,664.0 L1581.3,667.1 L1581.8,670.2 L1582.0,673.4 L1581.8,676.6 L1581.3,679.8 L1580.5,682.9 L1579.4,686.0 L1578.0,689.0 L1576.2,691.8 L1574.2,694.5 L1571.9,697.0" stroke="#cfcfcf" stroke-width="12.5"/><path d="M1550.4,676.0 L1549.9,676.2 L1549.3,676.4 L1548.7,676.6 L1548.1,676.7 L1547.4,676.7 L1546.8,676.6 L1546.1,676.4 L1545.4,676.2 L1544.7,675.9 L1544.1,675.5 L1543.5,675.0 L1542.9,674.4 L1542.4,673.8 L1541.9,673.1 L1541.5,672.3 L1541.1,671.5 L1540.9,670.6 L1540.8,669.6 L1540.7,668.7 L1540.8,667.7 L1540.9,666.7 L1541.2,665.6 L1541.6,664.7 L1542.1,663.7 L1542.7,662.7 L1543.4,661.9 L1544.2,661.0 L1545.1,660.3 L1546.1,659.6 L1547.2,659.1 L1548.4,658.6 L1549.6,658.3 L1550.9,658.1 L1552.2,658.0 L1553.6,658.0 L1554.9,658.2 L1556.3,658.6 L1557.6,659.0 L1558.9,659.7 L1560.2,660.4 L1561.3,661.3 L1562.4,662.4 L1563.5,663.5 L1564.4,664.8 L1565.1,666.2 L1565.8,667.7 L1566.3,669.2 L1566.6,670.8 L1566.8,672.5 L1566.8,674.2 L1566.6,675.9 L1566.3,677.7 L1565.7,679.3 L1565.0,681.0 L1564.1,682.6 L1563.1,684.1 L1561.9,685.5 L1560.5,686.8 L1559.0,688.0 L1557.4,689.1 L1555.6,689.9 L1553.7,690.6 L1551.8,691.1 L1549.8,691.5 L1547.7,691.6 L1545.6,691.5 L1543.5,691.2 L1541.5,690.7 L1539.4,689.9 L1537.5,689.0 L1535.6,687.8 L1533.8,686.5 L1532.2,685.0 L1530.7,683.2 L1529.3,681.4 L1528.2,679.4 L1527.2,677.2 L1526.5,675.0 L1526.0,672.6 L1525.7,670.2 L1525.6,667.8 L1525.8,665.3 L1526.3,662.9 L1527.0,660.4 L1528.0,658.1 L1529.2,655.8 L1530.6,653.7 L1532.2,651.7 L1534.1,649.8 L1536.2,648.1 L1538.4,646.6 L1540.8,645.4 L1543.3,644.3 L1546.0,643.6 L1548.7,643.1 L1551.5,642.8 L1554.3,642.9 L1557.2,643.2 L1560.0,643.8 L1562.7,644.8 L1565.4,645.9 L1567.9,647.4 L1570.4,649.1 L1572.6,651.1 L1574.7,653.3 L1576.5,655.7 L1578.1,658.3 L1579.5,661.1 L1580.6,664.0 L1581.3,667.1 L1581.8,670.2 L1582.0,673.4 L1581.8,676.6 L1581.3,679.8 L1580.5,682.9 L1579.4,686.0 L1578.0,689.0 L1576.2,691.8 L1574.2,694.5 L1571.9,697.0" stroke="#fff" stroke-width="10"/><path d="M50.4,976.0 L49.9,976.2 L49.3,976.4 L48.7,976.6 L48.1,976.7 L47.4,976.7 L46.8,976.6 L46.1,976.4 L45.4,976.2 L44.7,975.9 L44.1,975.5 L43.5,975.0 L42.9,974.4 L42.4,973.8 L41.9,973.1 L41.5,972.3 L41.1,971.5 L40.9,970.6 L40.8,969.6 L40.7,968.7 L40.8,967.7 L40.9,966.7 L41.2,965.6 L41.6,964.7 L42.1,963.7 L42.7,962.7 L43.4,961.9 L44.2,961.0 L45.1,960.3 L46.1,959.6 L47.2,959.1 L48.4,958.6 L49.6,958.3 L50.9,958.1 L52.2,958.0 L53.6,958.0 L54.9,958.2 L56.3,958.6 L57.6,959.0 L58.9,959.7 L60.2,960.4 L61.3,961.3 L62.4,962.4 L63.5,963.5 L64.4,964.8 L65.1,966.2 L65.8,967.7 L66.3,969.2 L66.6,970.8 L66.8,972.5 L66.8,974.2 L66.6,975.9 L66.3,977.7 L65.7,979.3 L65.0,981.0 L64.1,982.6 L63.1,984.1 L61.9,985.5 L60.5,986.8 L59.0,988.0 L57.4,989.1 L55.6,989.9 L53.7,990.6 L51.8,991.1 L49.8,991.5 L47.7,991.6 L45.6,991.5 L43.5,991.2 L41.5,990.7 L39.4,989.9 L37.5,989.0 L35.6,987.8 L33.8,986.5 L32.2,985.0 L30.7,983.2 L29.3,981.4 L28.2,979.4 L27.2,977.2 L26.5,975.0 L26.0,972.6 L25.7,970.2 L25.6,967.8 L25.8,965.3 L26.3,962.9 L27.0,960.4 L28.0,958.1 L29.2,955.8 L30.6,953.7 L32.2,951.7 L34.1,949.8 L36.2,948.1 L38.4,946.6 L40.8,945.4 L43.3,944.3 L46.0,943.6 L48.7,943.1 L51.5,942.8 L54.3,942.9 L57.2,943.2 L60.0,943.8 L62.7,944.8 L65.4,945.9 L67.9,947.4 L70.4,949.1 L72.6,951.1 L74.7,953.3 L76.5,955.7 L78.1,958.3 L79.5,961.1 L80.6,964.0 L81.3,967.1 L81.8,970.2 L82.0,973.4 L81.8,976.6 L81.3,979.8 L80.5,982.9 L79.4,986.0 L78.0,989.0 L76.2,991.8 L74.2,994.5 L71.9,997.0" stroke="#cfcfcf" stroke-width="12.5"/><path d="M50.4,976.0 L49.9,976.2 L49.3,976.4 L48.7,976.6 L48.1,976.7 L47.4,976.7 L46.8,976.6 L46.1,976.4 L45.4,976.2 L44.7,975.9 L44.1,975.5 L43.5,975.0 L42.9,974.4 L42.4,973.8 L41.9,973.1 L41.5,972.3 L41.1,971.5 L40.9,970.6 L40.8,969.6 L40.7,968.7 L40.8,967.7 L40.9,966.7 L41.2,965.6 L41.6,964.7 L42.1,963.7 L42.7,962.7 L43.4,961.9 L44.2,961.0 L45.1,960.3 L46.1,959.6 L47.2,959.1 L48.4,958.6 L49.6,958.3 L50.9,958.1 L52.2,958.0 L53.6,958.0 L54.9,958.2 L56.3,958.6 L57.6,959.0 L58.9,959.7 L60.2,960.4 L61.3,961.3 L62.4,962.4 L63.5,963.5 L64.4,964.8 L65.1,966.2 L65.8,967.7 L66.3,969.2 L66.6,970.8 L66.8,972.5 L66.8,974.2 L66.6,975.9 L66.3,977.7 L65.7,979.3 L65.0,981.0 L64.1,982.6 L63.1,984.1 L61.9,985.5 L60.5,986.8 L59.0,988.0 L57.4,989.1 L55.6,989.9 L53.7,990.6 L51.8,991.1 L49.8,991.5 L47.7,991.6 L45.6,991.5 L43.5,991.2 L41.5,990.7 L39.4,989.9 L37.5,989.0 L35.6,987.8 L33.8,986.5 L32.2,985.0 L30.7,983.2 L29.3,981.4 L28.2,979.4 L27.2,977.2 L26.5,975.0 L26.0,972.6 L25.7,970.2 L25.6,967.8 L25.8,965.3 L26.3,962.9 L27.0,960.4 L28.0,958.1 L29.2,955.8 L30.6,953.7 L32.2,951.7 L34.1,949.8 L36.2,948.1 L38.4,946.6 L40.8,945.4 L43.3,944.3 L46.0,943.6 L48.7,943.1 L51.5,942.8 L54.3,942.9 L57.2,943.2 L60.0,943.8 L62.7,944.8 L65.4,945.9 L67.9,947.4 L70.4,949.1 L72.6,951.1 L74.7,953.3 L76.5,955.7 L78.1,958.3 L79.5,961.1 L80.6,964.0 L81.3,967.1 L81.8,970.2 L82.0,973.4 L81.8,976.6 L81.3,979.8 L80.5,982.9 L79.4,986.0 L78.0,989.0 L76.2,991.8 L74.2,994.5 L71.9,997.0" stroke="#fff" stroke-width="10"/><path d="M650.4,976.0 L649.9,976.2 L649.3,976.4 L648.7,976.6 L648.1,976.7 L647.4,976.7 L646.8,976.6 L646.1,976.4 L645.4,976.2 L644.7,975.9 L644.1,975.5 L643.5,975.0 L642.9,974.4 L642.4,973.8 L641.9,973.1 L641.5,972.3 L641.1,971.5 L640.9,970.6 L640.8,969.6 L640.7,968.7 L640.8,967.7 L640.9,966.7 L641.2,965.6 L641.6,964.7 L642.1,963.7 L642.7,962.7 L643.4,961.9 L644.2,961.0 L645.1,960.3 L646.1,959.6 L647.2,959.1 L648.4,958.6 L649.6,958.3 L650.9,958.1 L652.2,958.0 L653.6,958.0 L654.9,958.2 L656.3,958.6 L657.6,959.0 L658.9,959.7 L660.2,960.4 L661.3,961.3 L662.4,962.4 L663.5,963.5 L664.4,964.8 L665.1,966.2 L665.8,967.7 L666.3,969.2 L666.6,970.8 L666.8,972.5 L666.8,974.2 L666.6,975.9 L666.3,977.7 L665.7,979.3 L665.0,981.0 L664.1,982.6 L663.1,984.1 L661.9,985.5 L660.5,986.8 L659.0,988.0 L657.4,989.1 L655.6,989.9 L653.7,990.6 L651.8,991.1 L649.8,991.5 L647.7,991.6 L645.6,991.5 L643.5,991.2 L641.5,990.7 L639.4,989.9 L637.5,989.0 L635.6,987.8 L633.8,986.5 L632.2,985.0 L630.7,983.2 L629.3,981.4 L628.2,979.4 L627.2,977.2 L626.5,975.0 L626.0,972.6 L625.7,970.2 L625.6,967.8 L625.8,965.3 L626.3,962.9 L627.0,960.4 L628.0,958.1 L629.2,955.8 L630.6,953.7 L632.2,951.7 L634.1,949.8 L636.2,948.1 L638.4,946.6 L640.8,945.4 L643.3,944.3 L646.0,943.6 L648.7,943.1 L651.5,942.8 L654.3,942.9 L657.2,943.2 L660.0,943.8 L662.7,944.8 L665.4,945.9 L667.9,947.4 L670.4,949.1 L672.6,951.1 L674.7,953.3 L676.5,955.7 L678.1,958.3 L679.5,961.1 L680.6,964.0 L681.3,967.1 L681.8,970.2 L682.0,973.4 L681.8,976.6 L681.3,979.8 L680.5,982.9 L679.4,986.0 L678.0,989.0 L676.2,991.8 L674.2,994.5 L671.9,997.0" stroke="#cfcfcf" stroke-width="12.5"/><path d="M650.4,976.0 L649.9,976.2 L649.3,976.4 L648.7,976.6 L648.1,976.7 L647.4,976.7 L646.8,976.6 L646.1,976.4 L645.4,976.2 L644.7,975.9 L644.1,975.5 L643.5,975.0 L642.9,974.4 L642.4,973.8 L641.9,973.1 L641.5,972.3 L641.1,971.5 L640.9,970.6 L640.8,969.6 L640.7,968.7 L640.8,967.7 L640.9,966.7 L641.2,965.6 L641.6,964.7 L642.1,963.7 L642.7,962.7 L643.4,961.9 L644.2,961.0 L645.1,960.3 L646.1,959.6 L647.2,959.1 L648.4,958.6 L649.6,958.3 L650.9,958.1 L652.2,958.0 L653.6,958.0 L654.9,958.2 L656.3,958.6 L657.6,959.0 L658.9,959.7 L660.2,960.4 L661.3,961.3 L662.4,962.4 L663.5,963.5 L664.4,964.8 L665.1,966.2 L665.8,967.7 L666.3,969.2 L666.6,970.8 L666.8,972.5 L666.8,974.2 L666.6,975.9 L666.3,977.7 L665.7,979.3 L665.0,981.0 L664.1,982.6 L663.1,984.1 L661.9,985.5 L660.5,986.8 L659.0,988.0 L657.4,989.1 L655.6,989.9 L653.7,990.6 L651.8,991.1 L649.8,991.5 L647.7,991.6 L645.6,991.5 L643.5,991.2 L641.5,990.7 L639.4,989.9 L637.5,989.0 L635.6,987.8 L633.8,986.5 L632.2,985.0 L630.7,983.2 L629.3,981.4 L628.2,979.4 L627.2,977.2 L626.5,975.0 L626.0,972.6 L625.7,970.2 L625.6,967.8 L625.8,965.3 L626.3,962.9 L627.0,960.4 L628.0,958.1 L629.2,955.8 L630.6,953.7 L632.2,951.7 L634.1,949.8 L636.2,948.1 L638.4,946.6 L640.8,945.4 L643.3,944.3 L646.0,943.6 L648.7,943.1 L651.5,942.8 L654.3,942.9 L657.2,943.2 L660.0,943.8 L662.7,944.8 L665.4,945.9 L667.9,947.4 L670.4,949.1 L672.6,951.1 L674.7,953.3 L676.5,955.7 L678.1,958.3 L679.5,961.1 L680.6,964.0 L681.3,967.1 L681.8,970.2 L682.0,973.4 L681.8,976.6 L681.3,979.8 L680.5,982.9 L679.4,986.0 L678.0,989.0 L676.2,991.8 L674.2,994.5 L671.9,997.0" stroke="#fff" stroke-width="10"/><path d="M1250.4,976.0 L1249.9,976.2 L1249.3,976.4 L1248.7,976.6 L1248.1,976.7 L1247.4,976.7 L1246.8,976.6 L1246.1,976.4 L1245.4,976.2 L1244.7,975.9 L1244.1,975.5 L1243.5,975.0 L1242.9,974.4 L1242.4,973.8 L1241.9,973.1 L1241.5,972.3 L1241.1,971.5 L1240.9,970.6 L1240.8,969.6 L1240.7,968.7 L1240.8,967.7 L1240.9,966.7 L1241.2,965.6 L1241.6,964.7 L1242.1,963.7 L1242.7,962.7 L1243.4,961.9 L1244.2,961.0 L1245.1,960.3 L1246.1,959.6 L1247.2,959.1 L1248.4,958.6 L1249.6,958.3 L1250.9,958.1 L1252.2,958.0 L1253.6,958.0 L1254.9,958.2 L1256.3,958.6 L1257.6,959.0 L1258.9,959.7 L1260.2,960.4 L1261.3,961.3 L1262.4,962.4 L1263.5,963.5 L1264.4,964.8 L1265.1,966.2 L1265.8,967.7 L1266.3,969.2 L1266.6,970.8 L1266.8,972.5 L1266.8,974.2 L1266.6,975.9 L1266.3,977.7 L1265.7,979.3 L1265.0,981.0 L1264.1,982.6 L1263.1,984.1 L1261.9,985.5 L1260.5,986.8 L1259.0,988.0 L1257.4,989.1 L1255.6,989.9 L1253.7,990.6 L1251.8,991.1 L1249.8,991.5 L1247.7,991.6 L1245.6,991.5 L1243.5,991.2 L1241.5,990.7 L1239.4,989.9 L1237.5,989.0 L1235.6,987.8 L1233.8,986.5 L1232.2,985.0 L1230.7,983.2 L1229.3,981.4 L1228.2,979.4 L1227.2,977.2 L1226.5,975.0 L1226.0,972.6 L1225.7,970.2 L1225.6,967.8 L1225.8,965.3 L1226.3,962.9 L1227.0,960.4 L1228.0,958.1 L1229.2,955.8 L1230.6,953.7 L1232.2,951.7 L1234.1,949.8 L1236.2,948.1 L1238.4,946.6 L1240.8,945.4 L1243.3,944.3 L1246.0,943.6 L1248.7,943.1 L1251.5,942.8 L1254.3,942.9 L1257.2,943.2 L1260.0,943.8 L1262.7,944.8 L1265.4,945.9 L1267.9,947.4 L1270.4,949.1 L1272.6,951.1 L1274.7,953.3 L1276.5,955.7 L1278.1,958.3 L1279.5,961.1 L1280.6,964.0 L1281.3,967.1 L1281.8,970.2 L1282.0,973.4 L1281.8,976.6 L1281.3,979.8 L1280.5,982.9 L1279.4,986.0 L1278.0,989.0 L1276.2,991.8 L1274.2,994.5 L1271.9,997.0" stroke="#cfcfcf" stroke-width="12.5"/><path d="M1250.4,976.0 L1249.9,976.2 L1249.3,976.4 L1248.7,976.6 L1248.1,976.7 L1247.4,976.7 L1246.8,976.6 L1246.1,976.4 L1245.4,976.2 L1244.7,975.9 L1244.1,975.5 L1243.5,975.0 L1242.9,974.4 L1242.4,973.8 L1241.9,973.1 L1241.5,972.3 L1241.1,971.5 L1240.9,970.6 L1240.8,969.6 L1240.7,968.7 L1240.8,967.7 L1240.9,966.7 L1241.2,965.6 L1241.6,964.7 L1242.1,963.7 L1242.7,962.7 L1243.4,961.9 L1244.2,961.0 L1245.1,960.3 L1246.1,959.6 L1247.2,959.1 L1248.4,958.6 L1249.6,958.3 L1250.9,958.1 L1252.2,958.0 L1253.6,958.0 L1254.9,958.2 L1256.3,958.6 L1257.6,959.0 L1258.9,959.7 L1260.2,960.4 L1261.3,961.3 L1262.4,962.4 L1263.5,963.5 L1264.4,964.8 L1265.1,966.2 L1265.8,967.7 L1266.3,969.2 L1266.6,970.8 L1266.8,972.5 L1266.8,974.2 L1266.6,975.9 L1266.3,977.7 L1265.7,979.3 L1265.0,981.0 L1264.1,982.6 L1263.1,984.1 L1261.9,985.5 L1260.5,986.8 L1259.0,988.0 L1257.4,989.1 L1255.6,989.9 L1253.7,990.6 L1251.8,991.1 L1249.8,991.5 L1247.7,991.6 L1245.6,991.5 L1243.5,991.2 L1241.5,990.7 L1239.4,989.9 L1237.5,989.0 L1235.6,987.8 L1233.8,986.5 L1232.2,985.0 L1230.7,983.2 L1229.3,981.4 L1228.2,979.4 L1227.2,977.2 L1226.5,975.0 L1226.0,972.6 L1225.7,970.2 L1225.6,967.8 L1225.8,965.3 L1226.3,962.9 L1227.0,960.4 L1228.0,958.1 L1229.2,955.8 L1230.6,953.7 L1232.2,951.7 L1234.1,949.8 L1236.2,948.1 L1238.4,946.6 L1240.8,945.4 L1243.3,944.3 L1246.0,943.6 L1248.7,943.1 L1251.5,942.8 L1254.3,942.9 L1257.2,943.2 L1260.0,943.8 L1262.7,944.8 L1265.4,945.9 L1267.9,947.4 L1270.4,949.1 L1272.6,951.1 L1274.7,953.3 L1276.5,955.7 L1278.1,958.3 L1279.5,961.1 L1280.6,964.0 L1281.3,967.1 L1281.8,970.2 L1282.0,973.4 L1281.8,976.6 L1281.3,979.8 L1280.5,982.9 L1279.4,986.0 L1278.0,989.0 L1276.2,991.8 L1274.2,994.5 L1271.9,997.0" stroke="#fff" stroke-width="10"/><path d="M350.4,1276.0 L349.9,1276.2 L349.3,1276.4 L348.7,1276.6 L348.1,1276.7 L347.4,1276.7 L346.8,1276.6 L346.1,1276.4 L345.4,1276.2 L344.7,1275.9 L344.1,1275.5 L343.5,1275.0 L342.9,1274.4 L342.4,1273.8 L341.9,1273.1 L341.5,1272.3 L341.1,1271.5 L340.9,1270.6 L340.8,1269.6 L340.7,1268.7 L340.8,1267.7 L340.9,1266.7 L341.2,1265.6 L341.6,1264.7 L342.1,1263.7 L342.7,1262.7 L343.4,1261.9 L344.2,1261.0 L345.1,1260.3 L346.1,1259.6 L347.2,1259.1 L348.4,1258.6 L349.6,1258.3 L350.9,1258.1 L352.2,1258.0 L353.6,1258.0 L354.9,1258.2 L356.3,1258.6 L357.6,1259.0 L358.9,1259.7 L360.2,1260.4 L361.3,1261.3 L362.4,1262.4 L363.5,1263.5 L364.4,1264.8 L365.1,1266.2 L365.8,1267.7 L366.3,1269.2 L366.6,1270.8 L366.8,1272.5 L366.8,1274.2 L366.6,1275.9 L366.3,1277.7 L365.7,1279.3 L365.0,1281.0 L364.1,1282.6 L363.1,1284.1 L361.9,1285.5 L360.5,1286.8 L359.0,1288.0 L357.4,1289.1 L355.6,1289.9 L353.7,1290.6 L351.8,1291.1 L349.8,1291.5 L347.7,1291.6 L345.6,1291.5 L343.5,1291.2 L341.5,1290.7 L339.4,1289.9 L337.5,1289.0 L335.6,1287.8 L333.8,1286.5 L332.2,1285.0 L330.7,1283.2 L329.3,1281.4 L328.2,1279.4 L327.2,1277.2 L326.5,1275.0 L326.0,1272.6 L325.7,1270.2 L325.6,1267.8 L325.8,1265.3 L326.3,1262.9 L327.0,1260.4 L328.0,1258.1 L329.2,1255.8 L330.6,1253.7 L332.2,1251.7 L334.1,1249.8 L336.2,1248.1 L338.4,1246.6 L340.8,1245.4 L343.3,1244.3 L346.0,1243.6 L348.7,1243.1 L351.5,1242.8 L354.3,1242.9 L357.2,1243.2 L360.0,1243.8 L362.7,1244.8 L365.4,1245.9 L367.9,1247.4 L370.4,1249.1 L372.6,1251.1 L374.7,1253.3 L376.5,1255.7 L378.1,1258.3 L379.5,1261.1 L380.6,1264.0 L381.3,1267.1 L381.8,1270.2 L382.0,1273.4 L381.8,1276.6 L381.3,1279.8 L380.5,1282.9 L379.4,1286.0 L378.0,1289.0 L376.2,1291.8 L374.2,1294.5 L371.9,1297.0" stroke="#cfcfcf" stroke-width="12.5"/><path d="M350.4,1276.0 L349.9,1276.2 L349.3,1276.4 L348.7,1276.6 L348.1,1276.7 L347.4,1276.7 L346.8,1276.6 L346.1,1276.4 L345.4,1276.2 L344.7,1275.9 L344.1,1275.5 L343.5,1275.0 L342.9,1274.4 L342.4,1273.8 L341.9,1273.1 L341.5,1272.3 L341.1,1271.5 L340.9,1270.6 L340.8,1269.6 L340.7,1268.7 L340.8,1267.7 L340.9,1266.7 L341.2,1265.6 L341.6,1264.7 L342.1,1263.7 L342.7,1262.7 L343.4,1261.9 L344.2,1261.0 L345.1,1260.3 L346.1,1259.6 L347.2,1259.1 L348.4,1258.6 L349.6,1258.3 L350.9,1258.1 L352.2,1258.0 L353.6,1258.0 L354.9,1258.2 L356.3,1258.6 L357.6,1259.0 L358.9,1259.7 L360.2,1260.4 L361.3,1261.3 L362.4,1262.4 L363.5,1263.5 L364.4,1264.8 L365.1,1266.2 L365.8,1267.7 L366.3,1269.2 L366.6,1270.8 L366.8,1272.5 L366.8,1274.2 L366.6,1275.9 L366.3,1277.7 L365.7,1279.3 L365.0,1281.0 L364.1,1282.6 L363.1,1284.1 L361.9,1285.5 L360.5,1286.8 L359.0,1288.0 L357.4,1289.1 L355.6,1289.9 L353.7,1290.6 L351.8,1291.1 L349.8,1291.5 L347.7,1291.6 L345.6,1291.5 L343.5,1291.2 L341.5,1290.7 L339.4,1289.9 L337.5,1289.0 L335.6,1287.8 L333.8,1286.5 L332.2,1285.0 L330.7,1283.2 L329.3,1281.4 L328.2,1279.4 L327.2,1277.2 L326.5,1275.0 L326.0,1272.6 L325.7,1270.2 L325.6,1267.8 L325.8,1265.3 L326.3,1262.9 L327.0,1260.4 L328.0,1258.1 L329.2,1255.8 L330.6,1253.7 L332.2,1251.7 L334.1,1249.8 L336.2,1248.1 L338.4,1246.6 L340.8,1245.4 L343.3,1244.3 L346.0,1243.6 L348.7,1243.1 L351.5,1242.8 L354.3,1242.9 L357.2,1243.2 L360.0,1243.8 L362.7,1244.8 L365.4,1245.9 L367.9,1247.4 L370.4,1249.1 L372.6,1251.1 L374.7,1253.3 L376.5,1255.7 L378.1,1258.3 L379.5,1261.1 L380.6,1264.0 L381.3,1267.1 L381.8,1270.2 L382.0,1273.4 L381.8,1276.6 L381.3,1279.8 L380.5,1282.9 L379.4,1286.0 L378.0,1289.0 L376.2,1291.8 L374.2,1294.5 L371.9,1297.0" stroke="#fff" stroke-width="10"/><path d="M950.4,1276.0 L949.9,1276.2 L949.3,1276.4 L948.7,1276.6 L948.1,1276.7 L947.4,1276.7 L946.8,1276.6 L946.1,1276.4 L945.4,1276.2 L944.7,1275.9 L944.1,1275.5 L943.5,1275.0 L942.9,1274.4 L942.4,1273.8 L941.9,1273.1 L941.5,1272.3 L941.1,1271.5 L940.9,1270.6 L940.8,1269.6 L940.7,1268.7 L940.8,1267.7 L940.9,1266.7 L941.2,1265.6 L941.6,1264.7 L942.1,1263.7 L942.7,1262.7 L943.4,1261.9 L944.2,1261.0 L945.1,1260.3 L946.1,1259.6 L947.2,1259.1 L948.4,1258.6 L949.6,1258.3 L950.9,1258.1 L952.2,1258.0 L953.6,1258.0 L954.9,1258.2 L956.3,1258.6 L957.6,1259.0 L958.9,1259.7 L960.2,1260.4 L961.3,1261.3 L962.4,1262.4 L963.5,1263.5 L964.4,1264.8 L965.1,1266.2 L965.8,1267.7 L966.3,1269.2 L966.6,1270.8 L966.8,1272.5 L966.8,1274.2 L966.6,1275.9 L966.3,1277.7 L965.7,1279.3 L965.0,1281.0 L964.1,1282.6 L963.1,1284.1 L961.9,1285.5 L960.5,1286.8 L959.0,1288.0 L957.4,1289.1 L955.6,1289.9 L953.7,1290.6 L951.8,1291.1 L949.8,1291.5 L947.7,1291.6 L945.6,1291.5 L943.5,1291.2 L941.5,1290.7 L939.4,1289.9 L937.5,1289.0 L935.6,1287.8 L933.8,1286.5 L932.2,1285.0 L930.7,1283.2 L929.3,1281.4 L928.2,1279.4 L927.2,1277.2 L926.5,1275.0 L926.0,1272.6 L925.7,1270.2 L925.6,1267.8 L925.8,1265.3 L926.3,1262.9 L927.0,1260.4 L928.0,1258.1 L929.2,1255.8 L930.6,1253.7 L932.2,1251.7 L934.1,1249.8 L936.2,1248.1 L938.4,1246.6 L940.8,1245.4 L943.3,1244.3 L946.0,1243.6 L948.7,1243.1 L951.5,1242.8 L954.3,1242.9 L957.2,1243.2 L960.0,1243.8 L962.7,1244.8 L965.4,1245.9 L967.9,1247.4 L970.4,1249.1 L972.6,1251.1 L974.7,1253.3 L976.5,1255.7 L978.1,1258.3 L979.5,1261.1 L980.6,1264.0 L981.3,1267.1 L981.8,1270.2 L982.0,1273.4 L981.8,1276.6 L981.3,1279.8 L980.5,1282.9 L979.4,1286.0 L978.0,1289.0 L976.2,1291.8 L974.2,1294.5 L971.9,1297.0" stroke="#cfcfcf" stroke-width="12.5"/><path d="M950.4,1276.0 L949.9,1276.2 L949.3,1276.4 L948.7,1276.6 L948.1,1276.7 L947.4,1276.7 L946.8,1276.6 L946.1,1276.4 L945.4,1276.2 L944.7,1275.9 L944.1,1275.5 L943.5,1275.0 L942.9,1274.4 L942.4,1273.8 L941.9,1273.1 L941.5,1272.3 L941.1,1271.5 L940.9,1270.6 L940.8,1269.6 L940.7,1268.7 L940.8,1267.7 L940.9,1266.7 L941.2,1265.6 L941.6,1264.7 L942.1,1263.7 L942.7,1262.7 L943.4,1261.9 L944.2,1261.0 L945.1,1260.3 L946.1,1259.6 L947.2,1259.1 L948.4,1258.6 L949.6,1258.3 L950.9,1258.1 L952.2,1258.0 L953.6,1258.0 L954.9,1258.2 L956.3,1258.6 L957.6,1259.0 L958.9,1259.7 L960.2,1260.4 L961.3,1261.3 L962.4,1262.4 L963.5,1263.5 L964.4,1264.8 L965.1,1266.2 L965.8,1267.7 L966.3,1269.2 L966.6,1270.8 L966.8,1272.5 L966.8,1274.2 L966.6,1275.9 L966.3,1277.7 L965.7,1279.3 L965.0,1281.0 L964.1,1282.6 L963.1,1284.1 L961.9,1285.5 L960.5,1286.8 L959.0,1288.0 L957.4,1289.1 L955.6,1289.9 L953.7,1290.6 L951.8,1291.1 L949.8,1291.5 L947.7,1291.6 L945.6,1291.5 L943.5,1291.2 L941.5,1290.7 L939.4,1289.9 L937.5,1289.0 L935.6,1287.8 L933.8,1286.5 L932.2,1285.0 L930.7,1283.2 L929.3,1281.4 L928.2,1279.4 L927.2,1277.2 L926.5,1275.0 L926.0,1272.6 L925.7,1270.2 L925.6,1267.8 L925.8,1265.3 L926.3,1262.9 L927.0,1260.4 L928.0,1258.1 L929.2,1255.8 L930.6,1253.7 L932.2,1251.7 L934.1,1249.8 L936.2,1248.1 L938.4,1246.6 L940.8,1245.4 L943.3,1244.3 L946.0,1243.6 L948.7,1243.1 L951.5,1242.8 L954.3,1242.9 L957.2,1243.2 L960.0,1243.8 L962.7,1244.8 L965.4,1245.9 L967.9,1247.4 L970.4,1249.1 L972.6,1251.1 L974.7,1253.3 L976.5,1255.7 L978.1,1258.3 L979.5,1261.1 L980.6,1264.0 L981.3,1267.1 L981.8,1270.2 L982.0,1273.4 L981.8,1276.6 L981.3,1279.8 L980.5,1282.9 L979.4,1286.0 L978.0,1289.0 L976.2,1291.8 L974.2,1294.5 L971.9,1297.0" stroke="#fff" stroke-width="10"/><path d="M1550.4,1276.0 L1549.9,1276.2 L1549.3,1276.4 L1548.7,1276.6 L1548.1,1276.7 L1547.4,1276.7 L1546.8,1276.6 L1546.1,1276.4 L1545.4,1276.2 L1544.7,1275.9 L1544.1,1275.5 L1543.5,1275.0 L1542.9,1274.4 L1542.4,1273.8 L1541.9,1273.1 L1541.5,1272.3 L1541.1,1271.5 L1540.9,1270.6 L1540.8,1269.6 L1540.7,1268.7 L1540.8,1267.7 L1540.9,1266.7 L1541.2,1265.6 L1541.6,1264.7 L1542.1,1263.7 L1542.7,1262.7 L1543.4,1261.9 L1544.2,1261.0 L1545.1,1260.3 L1546.1,1259.6 L1547.2,1259.1 L1548.4,1258.6 L1549.6,1258.3 L1550.9,1258.1 L1552.2,1258.0 L1553.6,1258.0 L1554.9,1258.2 L1556.3,1258.6 L1557.6,1259.0 L1558.9,1259.7 L1560.2,1260.4 L1561.3,1261.3 L1562.4,1262.4 L1563.5,1263.5 L1564.4,1264.8 L1565.1,1266.2 L1565.8,1267.7 L1566.3,1269.2 L1566.6,1270.8 L1566.8,1272.5 L1566.8,1274.2 L1566.6,1275.9 L1566.3,1277.7 L1565.7,1279.3 L1565.0,1281.0 L1564.1,1282.6 L1563.1,1284.1 L1561.9,1285.5 L1560.5,1286.8 L1559.0,1288.0 L1557.4,1289.1 L1555.6,1289.9 L1553.7,1290.6 L1551.8,1291.1 L1549.8,1291.5 L1547.7,1291.6 L1545.6,1291.5 L1543.5,1291.2 L1541.5,1290.7 L1539.4,1289.9 L1537.5,1289.0 L1535.6,1287.8 L1533.8,1286.5 L1532.2,1285.0 L1530.7,1283.2 L1529.3,1281.4 L1528.2,1279.4 L1527.2,1277.2 L1526.5,1275.0 L1526.0,1272.6 L1525.7,1270.2 L1525.6,1267.8 L1525.8,1265.3 L1526.3,1262.9 L1527.0,1260.4 L1528.0,1258.1 L1529.2,1255.8 L1530.6,1253.7 L1532.2,1251.7 L1534.1,1249.8 L1536.2,1248.1 L1538.4,1246.6 L1540.8,1245.4 L1543.3,1244.3 L1546.0,1243.6 L1548.7,1243.1 L1551.5,1242.8 L1554.3,1242.9 L1557.2,1243.2 L1560.0,1243.8 L1562.7,1244.8 L1565.4,1245.9 L1567.9,1247.4 L1570.4,1249.1 L1572.6,1251.1 L1574.7,1253.3 L1576.5,1255.7 L1578.1,1258.3 L1579.5,1261.1 L1580.6,1264.0 L1581.3,1267.1 L1581.8,1270.2 L1582.0,1273.4 L1581.8,1276.6 L1581.3,1279.8 L1580.5,1282.9 L1579.4,1286.0 L1578.0,1289.0 L1576.2,1291.8 L1574.2,1294.5 L1571.9,1297.0" stroke="#cfcfcf" stroke-width="12.5"/><path d="M1550.4,1276.0 L1549.9,1276.2 L1549.3,1276.4 L1548.7,1276.6 L1548.1,1276.7 L1547.4,1276.7 L1546.8,1276.6 L1546.1,1276.4 L1545.4,1276.2 L1544.7,1275.9 L1544.1,1275.5 L1543.5,1275.0 L1542.9,1274.4 L1542.4,1273.8 L1541.9,1273.1 L1541.5,1272.3 L1541.1,1271.5 L1540.9,1270.6 L1540.8,1269.6 L1540.7,1268.7 L1540.8,1267.7 L1540.9,1266.7 L1541.2,1265.6 L1541.6,1264.7 L1542.1,1263.7 L1542.7,1262.7 L1543.4,1261.9 L1544.2,1261.0 L1545.1,1260.3 L1546.1,1259.6 L1547.2,1259.1 L1548.4,1258.6 L1549.6,1258.3 L1550.9,1258.1 L1552.2,1258.0 L1553.6,1258.0 L1554.9,1258.2 L1556.3,1258.6 L1557.6,1259.0 L1558.9,1259.7 L1560.2,1260.4 L1561.3,1261.3 L1562.4,1262.4 L1563.5,1263.5 L1564.4,1264.8 L1565.1,1266.2 L1565.8,1267.7 L1566.3,1269.2 L1566.6,1270.8 L1566.8,1272.5 L1566.8,1274.2 L1566.6,1275.9 L1566.3,1277.7 L1565.7,1279.3 L1565.0,1281.0 L1564.1,1282.6 L1563.1,1284.1 L1561.9,1285.5 L1560.5,1286.8 L1559.0,1288.0 L1557.4,1289.1 L1555.6,1289.9 L1553.7,1290.6 L1551.8,1291.1 L1549.8,1291.5 L1547.7,1291.6 L1545.6,1291.5 L1543.5,1291.2 L1541.5,1290.7 L1539.4,1289.9 L1537.5,1289.0 L1535.6,1287.8 L1533.8,1286.5 L1532.2,1285.0 L1530.7,1283.2 L1529.3,1281.4 L1528.2,1279.4 L1527.2,1277.2 L1526.5,1275.0 L1526.0,1272.6 L1525.7,1270.2 L1525.6,1267.8 L1525.8,1265.3 L1526.3,1262.9 L1527.0,1260.4 L1528.0,1258.1 L1529.2,1255.8 L1530.6,1253.7 L1532.2,1251.7 L1534.1,1249.8 L1536.2,1248.1 L1538.4,1246.6 L1540.8,1245.4 L1543.3,1244.3 L1546.0,1243.6 L1548.7,1243.1 L1551.5,1242.8 L1554.3,1242.9 L1557.2,1243.2 L1560.0,1243.8 L1562.7,1244.8 L1565.4,1245.9 L1567.9,1247.4 L1570.4,1249.1 L1572.6,1251.1 L1574.7,1253.3 L1576.5,1255.7 L1578.1,1258.3 L1579.5,1261.1 L1580.6,1264.0 L1581.3,1267.1 L1581.8,1270.2 L1582.0,1273.4 L1581.8,1276.6 L1581.3,1279.8 L1580.5,1282.9 L1579.4,1286.0 L1578.0,1289.0 L1576.2,1291.8 L1574.2,1294.5 L1571.9,1297.0" stroke="#fff" stroke-width="10"/><path d="M50.4,1576.0 L49.9,1576.2 L49.3,1576.4 L48.7,1576.6 L48.1,1576.7 L47.4,1576.7 L46.8,1576.6 L46.1,1576.4 L45.4,1576.2 L44.7,1575.9 L44.1,1575.5 L43.5,1575.0 L42.9,1574.4 L42.4,1573.8 L41.9,1573.1 L41.5,1572.3 L41.1,1571.5 L40.9,1570.6 L40.8,1569.6 L40.7,1568.7 L40.8,1567.7 L40.9,1566.7 L41.2,1565.6 L41.6,1564.7 L42.1,1563.7 L42.7,1562.7 L43.4,1561.9 L44.2,1561.0 L45.1,1560.3 L46.1,1559.6 L47.2,1559.1 L48.4,1558.6 L49.6,1558.3 L50.9,1558.1 L52.2,1558.0 L53.6,1558.0 L54.9,1558.2 L56.3,1558.6 L57.6,1559.0 L58.9,1559.7 L60.2,1560.4 L61.3,1561.3 L62.4,1562.4 L63.5,1563.5 L64.4,1564.8 L65.1,1566.2 L65.8,1567.7 L66.3,1569.2 L66.6,1570.8 L66.8,1572.5 L66.8,1574.2 L66.6,1575.9 L66.3,1577.7 L65.7,1579.3 L65.0,1581.0 L64.1,1582.6 L63.1,1584.1 L61.9,1585.5 L60.5,1586.8 L59.0,1588.0 L57.4,1589.1 L55.6,1589.9 L53.7,1590.6 L51.8,1591.1 L49.8,1591.5 L47.7,1591.6 L45.6,1591.5 L43.5,1591.2 L41.5,1590.7 L39.4,1589.9 L37.5,1589.0 L35.6,1587.8 L33.8,1586.5 L32.2,1585.0 L30.7,1583.2 L29.3,1581.4 L28.2,1579.4 L27.2,1577.2 L26.5,1575.0 L26.0,1572.6 L25.7,1570.2 L25.6,1567.8 L25.8,1565.3 L26.3,1562.9 L27.0,1560.4 L28.0,1558.1 L29.2,1555.8 L30.6,1553.7 L32.2,1551.7 L34.1,1549.8 L36.2,1548.1 L38.4,1546.6 L40.8,1545.4 L43.3,1544.3 L46.0,1543.6 L48.7,1543.1 L51.5,1542.8 L54.3,1542.9 L57.2,1543.2 L60.0,1543.8 L62.7,1544.8 L65.4,1545.9 L67.9,1547.4 L70.4,1549.1 L72.6,1551.1 L74.7,1553.3 L76.5,1555.7 L78.1,1558.3 L79.5,1561.1 L80.6,1564.0 L81.3,1567.1 L81.8,1570.2 L82.0,1573.4 L81.8,1576.6 L81.3,1579.8 L80.5,1582.9 L79.4,1586.0 L78.0,1589.0 L76.2,1591.8 L74.2,1594.5 L71.9,1597.0" stroke="#cfcfcf" stroke-width="12.5"/><path d="M50.4,1576.0 L49.9,1576.2 L49.3,1576.4 L48.7,1576.6 L48.1,1576.7 L47.4,1576.7 L46.8,1576.6 L46.1,1576.4 L45.4,1576.2 L44.7,1575.9 L44.1,1575.5 L43.5,1575.0 L42.9,1574.4 L42.4,1573.8 L41.9,1573.1 L41.5,1572.3 L41.1,1571.5 L40.9,1570.6 L40.8,1569.6 L40.7,1568.7 L40.8,1567.7 L40.9,1566.7 L41.2,1565.6 L41.6,1564.7 L42.1,1563.7 L42.7,1562.7 L43.4,1561.9 L44.2,1561.0 L45.1,1560.3 L46.1,1559.6 L47.2,1559.1 L48.4,1558.6 L49.6,1558.3 L50.9,1558.1 L52.2,1558.0 L53.6,1558.0 L54.9,1558.2 L56.3,1558.6 L57.6,1559.0 L58.9,1559.7 L60.2,1560.4 L61.3,1561.3 L62.4,1562.4 L63.5,1563.5 L64.4,1564.8 L65.1,1566.2 L65.8,1567.7 L66.3,1569.2 L66.6,1570.8 L66.8,1572.5 L66.8,1574.2 L66.6,1575.9 L66.3,1577.7 L65.7,1579.3 L65.0,1581.0 L64.1,1582.6 L63.1,1584.1 L61.9,1585.5 L60.5,1586.8 L59.0,1588.0 L57.4,1589.1 L55.6,1589.9 L53.7,1590.6 L51.8,1591.1 L49.8,1591.5 L47.7,1591.6 L45.6,1591.5 L43.5,1591.2 L41.5,1590.7 L39.4,1589.9 L37.5,1589.0 L35.6,1587.8 L33.8,1586.5 L32.2,1585.0 L30.7,1583.2 L29.3,1581.4 L28.2,1579.4 L27.2,1577.2 L26.5,1575.0 L26.0,1572.6 L25.7,1570.2 L25.6,1567.8 L25.8,1565.3 L26.3,1562.9 L27.0,1560.4 L28.0,1558.1 L29.2,1555.8 L30.6,1553.7 L32.2,1551.7 L34.1,1549.8 L36.2,1548.1 L38.4,1546.6 L40.8,1545.4 L43.3,1544.3 L46.0,1543.6 L48.7,1543.1 L51.5,1542.8 L54.3,1542.9 L57.2,1543.2 L60.0,1543.8 L62.7,1544.8 L65.4,1545.9 L67.9,1547.4 L70.4,1549.1 L72.6,1551.1 L74.7,1553.3 L76.5,1555.7 L78.1,1558.3 L79.5,1561.1 L80.6,1564.0 L81.3,1567.1 L81.8,1570.2 L82.0,1573.4 L81.8,1576.6 L81.3,1579.8 L80.5,1582.9 L79.4,1586.0 L78.0,1589.0 L76.2,1591.8 L74.2,1594.5 L71.9,1597.0" stroke="#fff" stroke-width="10"/><path d="M650.4,1576.0 L649.9,1576.2 L649.3,1576.4 L648.7,1576.6 L648.1,1576.7 L647.4,1576.7 L646.8,1576.6 L646.1,1576.4 L645.4,1576.2 L644.7,1575.9 L644.1,1575.5 L643.5,1575.0 L642.9,1574.4 L642.4,1573.8 L641.9,1573.1 L641.5,1572.3 L641.1,1571.5 L640.9,1570.6 L640.8,1569.6 L640.7,1568.7 L640.8,1567.7 L640.9,1566.7 L641.2,1565.6 L641.6,1564.7 L642.1,1563.7 L642.7,1562.7 L643.4,1561.9 L644.2,1561.0 L645.1,1560.3 L646.1,1559.6 L647.2,1559.1 L648.4,1558.6 L649.6,1558.3 L650.9,1558.1 L652.2,1558.0 L653.6,1558.0 L654.9,1558.2 L656.3,1558.6 L657.6,1559.0 L658.9,1559.7 L660.2,1560.4 L661.3,1561.3 L662.4,1562.4 L663.5,1563.5 L664.4,1564.8 L665.1,1566.2 L665.8,1567.7 L666.3,1569.2 L666.6,1570.8 L666.8,1572.5 L666.8,1574.2 L666.6,1575.9 L666.3,1577.7 L665.7,1579.3 L665.0,1581.0 L664.1,1582.6 L663.1,1584.1 L661.9,1585.5 L660.5,1586.8 L659.0,1588.0 L657.4,1589.1 L655.6,1589.9 L653.7,1590.6 L651.8,1591.1 L649.8,1591.5 L647.7,1591.6 L645.6,1591.5 L643.5,1591.2 L641.5,1590.7 L639.4,1589.9 L637.5,1589.0 L635.6,1587.8 L633.8,1586.5 L632.2,1585.0 L630.7,1583.2 L629.3,1581.4 L628.2,1579.4 L627.2,1577.2 L626.5,1575.0 L626.0,1572.6 L625.7,1570.2 L625.6,1567.8 L625.8,1565.3 L626.3,1562.9 L627.0,1560.4 L628.0,1558.1 L629.2,1555.8 L630.6,1553.7 L632.2,1551.7 L634.1,1549.8 L636.2,1548.1 L638.4,1546.6 L640.8,1545.4 L643.3,1544.3 L646.0,1543.6 L648.7,1543.1 L651.5,1542.8 L654.3,1542.9 L657.2,1543.2 L660.0,1543.8 L662.7,1544.8 L665.4,1545.9 L667.9,1547.4 L670.4,1549.1 L672.6,1551.1 L674.7,1553.3 L676.5,1555.7 L678.1,1558.3 L679.5,1561.1 L680.6,1564.0 L681.3,1567.1 L681.8,1570.2 L682.0,1573.4 L681.8,1576.6 L681.3,1579.8 L680.5,1582.9 L679.4,1586.0 L678.0,1589.0 L676.2,1591.8 L674.2,1594.5 L671.9,1597.0" stroke="#cfcfcf" stroke-width="12.5"/><path d="M650.4,1576.0 L649.9,1576.2 L649.3,1576.4 L648.7,1576.6 L648.1,1576.7 L647.4,1576.7 L646.8,1576.6 L646.1,1576.4 L645.4,1576.2 L644.7,1575.9 L644.1,1575.5 L643.5,1575.0 L642.9,1574.4 L642.4,1573.8 L641.9,1573.1 L641.5,1572.3 L641.1,1571.5 L640.9,1570.6 L640.8,1569.6 L640.7,1568.7 L640.8,1567.7 L640.9,1566.7 L641.2,1565.6 L641.6,1564.7 L642.1,1563.7 L642.7,1562.7 L643.4,1561.9 L644.2,1561.0 L645.1,1560.3 L646.1,1559.6 L647.2,1559.1 L648.4,1558.6 L649.6,1558.3 L650.9,1558.1 L652.2,1558.0 L653.6,1558.0 L654.9,1558.2 L656.3,1558.6 L657.6,1559.0 L658.9,1559.7 L660.2,1560.4 L661.3,1561.3 L662.4,1562.4 L663.5,1563.5 L664.4,1564.8 L665.1,1566.2 L665.8,1567.7 L666.3,1569.2 L666.6,1570.8 L666.8,1572.5 L666.8,1574.2 L666.6,1575.9 L666.3,1577.7 L665.7,1579.3 L665.0,1581.0 L664.1,1582.6 L663.1,1584.1 L661.9,1585.5 L660.5,1586.8 L659.0,1588.0 L657.4,1589.1 L655.6,1589.9 L653.7,1590.6 L651.8,1591.1 L649.8,1591.5 L647.7,1591.6 L645.6,1591.5 L643.5,1591.2 L641.5,1590.7 L639.4,1589.9 L637.5,1589.0 L635.6,1587.8 L633.8,1586.5 L632.2,1585.0 L630.7,1583.2 L629.3,1581.4 L628.2,1579.4 L627.2,1577.2 L626.5,1575.0 L626.0,1572.6 L625.7,1570.2 L625.6,1567.8 L625.8,1565.3 L626.3,1562.9 L627.0,1560.4 L628.0,1558.1 L629.2,1555.8 L630.6,1553.7 L632.2,1551.7 L634.1,1549.8 L636.2,1548.1 L638.4,1546.6 L640.8,1545.4 L643.3,1544.3 L646.0,1543.6 L648.7,1543.1 L651.5,1542.8 L654.3,1542.9 L657.2,1543.2 L660.0,1543.8 L662.7,1544.8 L665.4,1545.9 L667.9,1547.4 L670.4,1549.1 L672.6,1551.1 L674.7,1553.3 L676.5,1555.7 L678.1,1558.3 L679.5,1561.1 L680.6,1564.0 L681.3,1567.1 L681.8,1570.2 L682.0,1573.4 L681.8,1576.6 L681.3,1579.8 L680.5,1582.9 L679.4,1586.0 L678.0,1589.0 L676.2,1591.8 L674.2,1594.5 L671.9,1597.0" stroke="#fff" stroke-width="10"/><path d="M1250.4,1576.0 L1249.9,1576.2 L1249.3,1576.4 L1248.7,1576.6 L1248.1,1576.7 L1247.4,1576.7 L1246.8,1576.6 L1246.1,1576.4 L1245.4,1576.2 L1244.7,1575.9 L1244.1,1575.5 L1243.5,1575.0 L1242.9,1574.4 L1242.4,1573.8 L1241.9,1573.1 L1241.5,1572.3 L1241.1,1571.5 L1240.9,1570.6 L1240.8,1569.6 L1240.7,1568.7 L1240.8,1567.7 L1240.9,1566.7 L1241.2,1565.6 L1241.6,1564.7 L1242.1,1563.7 L1242.7,1562.7 L1243.4,1561.9 L1244.2,1561.0 L1245.1,1560.3 L1246.1,1559.6 L1247.2,1559.1 L1248.4,1558.6 L1249.6,1558.3 L1250.9,1558.1 L1252.2,1558.0 L1253.6,1558.0 L1254.9,1558.2 L1256.3,1558.6 L1257.6,1559.0 L1258.9,1559.7 L1260.2,1560.4 L1261.3,1561.3 L1262.4,1562.4 L1263.5,1563.5 L1264.4,1564.8 L1265.1,1566.2 L1265.8,1567.7 L1266.3,1569.2 L1266.6,1570.8 L1266.8,1572.5 L1266.8,1574.2 L1266.6,1575.9 L1266.3,1577.7 L1265.7,1579.3 L1265.0,1581.0 L1264.1,1582.6 L1263.1,1584.1 L1261.9,1585.5 L1260.5,1586.8 L1259.0,1588.0 L1257.4,1589.1 L1255.6,1589.9 L1253.7,1590.6 L1251.8,1591.1 L1249.8,1591.5 L1247.7,1591.6 L1245.6,1591.5 L1243.5,1591.2 L1241.5,1590.7 L1239.4,1589.9 L1237.5,1589.0 L1235.6,1587.8 L1233.8,1586.5 L1232.2,1585.0 L1230.7,1583.2 L1229.3,1581.4 L1228.2,1579.4 L1227.2,1577.2 L1226.5,1575.0 L1226.0,1572.6 L1225.7,1570.2 L1225.6,1567.8 L1225.8,1565.3 L1226.3,1562.9 L1227.0,1560.4 L1228.0,1558.1 L1229.2,1555.8 L1230.6,1553.7 L1232.2,1551.7 L1234.1,1549.8 L1236.2,1548.1 L1238.4,1546.6 L1240.8,1545.4 L1243.3,1544.3 L1246.0,1543.6 L1248.7,1543.1 L1251.5,1542.8 L1254.3,1542.9 L1257.2,1543.2 L1260.0,1543.8 L1262.7,1544.8 L1265.4,1545.9 L1267.9,1547.4 L1270.4,1549.1 L1272.6,1551.1 L1274.7,1553.3 L1276.5,1555.7 L1278.1,1558.3 L1279.5,1561.1 L1280.6,1564.0 L1281.3,1567.1 L1281.8,1570.2 L1282.0,1573.4 L1281.8,1576.6 L1281.3,1579.8 L1280.5,1582.9 L1279.4,1586.0 L1278.0,1589.0 L1276.2,1591.8 L1274.2,1594.5 L1271.9,1597.0" stroke="#cfcfcf" stroke-width="12.5"/><path d="M1250.4,1576.0 L1249.9,1576.2 L1249.3,1576.4 L1248.7,1576.6 L1248.1,1576.7 L1247.4,1576.7 L1246.8,1576.6 L1246.1,1576.4 L1245.4,1576.2 L1244.7,1575.9 L1244.1,1575.5 L1243.5,1575.0 L1242.9,1574.4 L1242.4,1573.8 L1241.9,1573.1 L1241.5,1572.3 L1241.1,1571.5 L1240.9,1570.6 L1240.8,1569.6 L1240.7,1568.7 L1240.8,1567.7 L1240.9,1566.7 L1241.2,1565.6 L1241.6,1564.7 L1242.1,1563.7 L1242.7,1562.7 L1243.4,1561.9 L1244.2,1561.0 L1245.1,1560.3 L1246.1,1559.6 L1247.2,1559.1 L1248.4,1558.6 L1249.6,1558.3 L1250.9,1558.1 L1252.2,1558.0 L1253.6,1558.0 L1254.9,1558.2 L1256.3,1558.6 L1257.6,1559.0 L1258.9,1559.7 L1260.2,1560.4 L1261.3,1561.3 L1262.4,1562.4 L1263.5,1563.5 L1264.4,1564.8 L1265.1,1566.2 L1265.8,1567.7 L1266.3,1569.2 L1266.6,1570.8 L1266.8,1572.5 L1266.8,1574.2 L1266.6,1575.9 L1266.3,1577.7 L1265.7,1579.3 L1265.0,1581.0 L1264.1,1582.6 L1263.1,1584.1 L1261.9,1585.5 L1260.5,1586.8 L1259.0,1588.0 L1257.4,1589.1 L1255.6,1589.9 L1253.7,1590.6 L1251.8,1591.1 L1249.8,1591.5 L1247.7,1591.6 L1245.6,1591.5 L1243.5,1591.2 L1241.5,1590.7 L1239.4,1589.9 L1237.5,1589.0 L1235.6,1587.8 L1233.8,1586.5 L1232.2,1585.0 L1230.7,1583.2 L1229.3,1581.4 L1228.2,1579.4 L1227.2,1577.2 L1226.5,1575.0 L1226.0,1572.6 L1225.7,1570.2 L1225.6,1567.8 L1225.8,1565.3 L1226.3,1562.9 L1227.0,1560.4 L1228.0,1558.1 L1229.2,1555.8 L1230.6,1553.7 L1232.2,1551.7 L1234.1,1549.8 L1236.2,1548.1 L1238.4,1546.6 L1240.8,1545.4 L1243.3,1544.3 L1246.0,1543.6 L1248.7,1543.1 L1251.5,1542.8 L1254.3,1542.9 L1257.2,1543.2 L1260.0,1543.8 L1262.7,1544.8 L1265.4,1545.9 L1267.9,1547.4 L1270.4,1549.1 L1272.6,1551.1 L1274.7,1553.3 L1276.5,1555.7 L1278.1,1558.3 L1279.5,1561.1 L1280.6,1564.0 L1281.3,1567.1 L1281.8,1570.2 L1282.0,1573.4 L1281.8,1576.6 L1281.3,1579.8 L1280.5,1582.9 L1279.4,1586.0 L1278.0,1589.0 L1276.2,1591.8 L1274.2,1594.5 L1271.9,1597.0" stroke="#fff" stroke-width="10"/></g>
<g opacity="0.32"><text transform="translate(58,72) rotate(-48.5)" text-anchor="middle" style="font-family:&quot;DejaVu Sans&quot;,sans-serif;font-weight:bold;font-size:23px;paint-order:stroke" fill="#fff" stroke="#cfcfcf" stroke-width="2.2" stroke-linejoin="round">dreamstime</text><text transform="translate(658,72) rotate(-48.5)" text-anchor="middle" style="font-family:&quot;DejaVu Sans&quot;,sans-serif;font-weight:bold;font-size:23px;paint-order:stroke" fill="#fff" stroke="#cfcfcf" stroke-width="2.2" stroke-linejoin="round">dreamstime</text><text transform="translate(1258,72) rotate(-48.5)" text-anchor="middle" style="font-family:&quot;DejaVu Sans&quot;,sans-serif;font-weight:bold;font-size:23px;paint-order:stroke" fill="#fff" stroke="#cfcfcf" stroke-width="2.2" stroke-linejoin="round">dreamstime</text><text transform="translate(358,372) rotate(-48.5)" text-anchor="middle" style="font-family:&quot;DejaVu Sans&quot;,sans-serif;font-weight:bold;font-size:23px;paint-order:stroke" fill="#fff" stroke="#cfcfcf" stroke-width="2.2" stroke-linejoin="round">dreamstime</text><text transform="translate(958,372) rotate(-48.5)" text-anchor="middle" style="font-family:&quot;DejaVu Sans&quot;,sans-serif;font-weight:bold;font-size:23px;paint-order:stroke" fill="#fff" stroke="#cfcfcf" stroke-width="2.2" stroke-linejoin="round">dreamstime</text><text transform="translate(1558,372) rotate(-48.5)" text-anchor="middle" style="font-family:&quot;DejaVu Sans&quot;,sans-serif;font-weight:bold;font-size:23px;paint-order:stroke" fill="#fff" stroke="#cfcfcf" stroke-width="2.2" stroke-linejoin="round">dreamstime</text><text transform="translate(58,672) rotate(-48.5)" text-anchor="middle" style="font-family:&quot;DejaVu Sans&quot;,sans-serif;font-weight:bold;font-size:23px;paint-order:stroke" fill="#fff" stroke="#cfcfcf" stroke-width="2.2" stroke-linejoin="round">dreamstime</text><text transform="translate(658,672) rotate(-48.5)" text-anchor="middle" style="font-family:&quot;DejaVu Sans&quot;,sans-serif;font-weight:bold;font-size:23px;paint-order:stroke" fill="#fff" stroke="#cfcfcf" stroke-width="2.2" stroke-linejoin="round">dreamstime</text><text transform="translate(1258,672) rotate(-48.5)" text-anchor="middle" style="font-family:&quot;DejaVu Sans&quot;,sans-serif;font-weight:bold;font-size:23px;paint-order:stroke" fill="#fff" stroke="#cfcfcf" stroke-width="2.2" stroke-linejoin="round">dreamstime</text><text transform="translate(358,972) rotate(-48.5)" text-anchor="middle" style="font-family:&quot;DejaVu Sans&quot;,sans-serif;font-weight:bold;font-size:23px;paint-order:stroke" fill="#fff" stroke="#cfcfcf" stroke-width="2.2" stroke-linejoin="round">dreamstime</text><text transform="translate(958,972) rotate(-48.5)" text-anchor="middle" style="font-family:&quot;DejaVu Sans&quot;,sans-serif;font-weight:bold;font-size:23px;paint-order:stroke" fill="#fff" stroke="#cfcfcf" stroke-width="2.2" stroke-linejoin="round">dreamstime</text><text transform="translate(1558,972) rotate(-48.5)" text-anchor="middle" style="font-family:&quot;DejaVu Sans&quot;,sans-serif;font-weight:bold;font-size:23px;paint-order:stroke" fill="#fff" stroke="#cfcfcf" stroke-width="2.2" stroke-linejoin="round">dreamstime</text><text transform="translate(58,1272) rotate(-48.5)" text-anchor="middle" style="font-family:&quot;DejaVu Sans&quot;,sans-serif;font-weight:bold;font-size:23px;paint-order:stroke" fill="#fff" stroke="#cfcfcf" stroke-width="2.2" stroke-linejoin="round">dreamstime</text><text transform="translate(658,1272) rotate(-48.5)" text-anchor="middle" style="font-family:&quot;DejaVu Sans&quot;,sans-serif;font-weight:bold;font-size:23px;paint-order:stroke" fill="#fff" stroke="#cfcfcf" stroke-width="2.2" stroke-linejoin="round">dreamstime</text><text transform="translate(1258,1272) rotate(-48.5)" text-anchor="middle" style="font-family:&quot;DejaVu Sans&quot;,sans-serif;font-weight:bold;font-size:23px;paint-order:stroke" fill="#fff" stroke="#cfcfcf" stroke-width="2.2" stroke-linejoin="round">dreamstime</text><text transform="translate(358,1572) rotate(-48.5)" text-anchor="middle" style="font-family:&quot;DejaVu Sans&quot;,sans-serif;font-weight:bold;font-size:23px;paint-order:stroke" fill="#fff" stroke="#cfcfcf" stroke-width="2.2" stroke-linejoin="round">dreamstime</text><text transform="translate(958,1572) rotate(-48.5)" text-anchor="middle" style="font-family:&quot;DejaVu Sans&quot;,sans-serif;font-weight:bold;font-size:23px;paint-order:stroke" fill="#fff" stroke="#cfcfcf" stroke-width="2.2" stroke-linejoin="round">dreamstime</text><text transform="translate(1558,1572) rotate(-48.5)" text-anchor="middle" style="font-family:&quot;DejaVu Sans&quot;,sans-serif;font-weight:bold;font-size:23px;paint-order:stroke" fill="#fff" stroke="#cfcfcf" stroke-width="2.2" stroke-linejoin="round">dreamstime</text></g>
</g>
</svg>
</body></html>
